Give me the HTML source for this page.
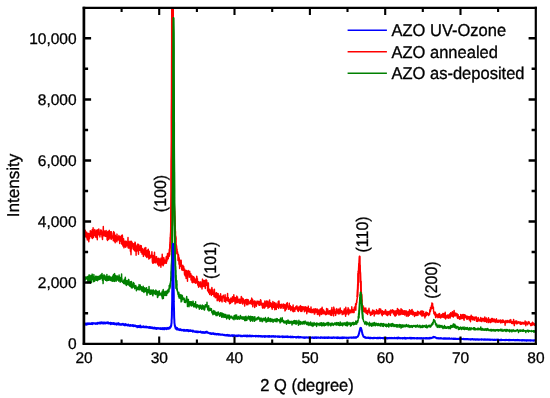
<!DOCTYPE html>
<html><head><meta charset="utf-8"><title>XRD</title>
<style>html,body{margin:0;padding:0;background:#fff;overflow:hidden}svg{display:block}text{font-family:'Liberation Sans', Arial, Helvetica, sans-serif;fill:#000;stroke:#000;stroke-width:0.3px;text-rendering:geometricPrecision}</style></head><body>
<svg width="550" height="398" viewBox="0 0 550 398">
<rect width="550" height="398" fill="#fff"/>
<defs><clipPath id="c"><rect x="83.9" y="7.75" width="451.9" height="335.95"/></clipPath></defs>
<g clip-path="url(#c)" fill="none" stroke-width="1.45" stroke-linejoin="round">
<polyline stroke="#ff0000" points="83.9,234.3 84.1,233.4 84.3,235.2 84.5,237.0 84.7,235.7 84.8,237.3 85.0,234.1 85.2,230.2 85.4,235.8 85.6,236.1 85.8,232.8 86.0,233.1 86.2,233.9 86.3,237.1 86.5,234.3 86.7,232.1 86.9,238.3 87.1,235.6 87.3,240.0 87.5,238.1 87.7,239.8 87.9,234.9 88.0,238.0 88.2,233.3 88.4,233.6 88.6,234.7 88.8,241.8 89.0,235.7 89.2,234.2 89.4,233.7 89.5,238.7 89.7,235.5 89.9,237.0 90.1,236.5 90.3,230.8 90.5,236.5 90.7,234.1 90.9,231.3 91.1,235.7 91.2,234.3 91.4,233.6 91.6,233.7 91.8,237.7 92.0,233.7 92.2,229.8 92.4,238.6 92.6,231.3 92.7,233.5 92.9,235.8 93.1,227.7 93.3,231.5 93.5,237.5 93.7,233.6 93.9,232.0 94.1,234.4 94.3,231.7 94.4,234.0 94.6,231.7 94.8,229.4 95.0,235.8 95.2,233.1 95.4,235.1 95.6,233.3 95.8,237.3 96.0,235.5 96.1,234.3 96.3,230.9 96.5,230.2 96.7,237.7 96.9,236.1 97.1,231.6 97.3,239.7 97.5,235.0 97.6,233.9 97.8,229.7 98.0,231.5 98.2,234.6 98.4,234.7 98.6,234.3 98.8,228.9 99.0,234.8 99.2,234.4 99.3,232.4 99.5,233.9 99.7,234.1 99.9,236.9 100.1,233.5 100.3,234.8 100.5,229.9 100.7,231.4 100.8,233.5 101.0,231.4 101.2,234.4 101.4,230.2 101.6,233.4 101.8,231.6 102.0,237.3 102.2,232.3 102.4,238.5 102.5,239.5 102.7,234.2 102.9,236.0 103.1,232.8 103.3,226.4 103.5,235.8 103.7,235.1 103.9,232.6 104.0,231.7 104.2,233.7 104.4,233.8 104.6,231.0 104.8,231.6 105.0,236.3 105.2,233.4 105.4,233.1 105.6,236.4 105.7,232.4 105.9,235.9 106.1,230.4 106.3,232.8 106.5,233.2 106.7,235.3 106.9,234.0 107.1,239.8 107.2,237.2 107.4,232.8 107.6,240.5 107.8,231.5 108.0,239.5 108.2,231.9 108.4,236.9 108.6,232.0 108.8,234.1 108.9,239.2 109.1,230.8 109.3,230.3 109.5,235.0 109.7,235.7 109.9,235.5 110.1,238.0 110.3,231.8 110.4,236.9 110.6,235.5 110.8,237.8 111.0,237.4 111.2,239.4 111.4,231.8 111.6,236.2 111.8,232.9 112.0,235.9 112.1,238.1 112.3,237.1 112.5,237.8 112.7,236.2 112.9,237.5 113.1,237.3 113.3,240.7 113.5,239.0 113.7,231.6 113.8,238.8 114.0,240.0 114.2,235.9 114.4,232.7 114.6,241.5 114.8,237.8 115.0,239.2 115.2,242.7 115.3,235.2 115.5,237.6 115.7,237.4 115.9,239.9 116.1,236.4 116.3,239.5 116.5,238.3 116.7,241.3 116.9,241.8 117.0,234.1 117.2,239.8 117.4,237.5 117.6,238.5 117.8,239.8 118.0,240.1 118.2,236.8 118.4,239.7 118.5,239.3 118.7,238.9 118.9,235.5 119.1,237.1 119.3,238.0 119.5,241.0 119.7,243.5 119.9,236.6 120.1,236.6 120.2,240.0 120.4,238.1 120.6,237.5 120.8,237.4 121.0,237.2 121.2,241.5 121.4,235.6 121.6,244.0 121.7,237.8 121.9,239.0 122.1,238.0 122.3,235.0 122.5,236.3 122.7,244.3 122.9,246.0 123.1,238.6 123.3,244.2 123.4,241.3 123.6,238.8 123.8,246.3 124.0,247.8 124.2,240.9 124.4,241.6 124.6,242.6 124.8,241.8 124.9,244.6 125.1,246.6 125.3,242.7 125.5,245.2 125.7,247.3 125.9,241.0 126.1,242.8 126.3,241.5 126.5,245.7 126.6,244.8 126.8,245.9 127.0,245.7 127.2,242.6 127.4,245.6 127.6,242.3 127.8,242.4 128.0,237.5 128.1,247.8 128.3,241.1 128.5,244.1 128.7,244.0 128.9,248.3 129.1,245.5 129.3,242.0 129.5,244.6 129.7,244.2 129.8,245.4 130.0,241.2 130.2,244.8 130.4,251.3 130.6,246.9 130.8,250.8 131.0,254.7 131.2,246.7 131.3,241.3 131.5,245.2 131.7,248.9 131.9,248.3 132.1,242.3 132.3,245.3 132.5,245.7 132.7,246.1 132.9,245.9 133.0,243.8 133.2,244.6 133.4,245.7 133.6,249.5 133.8,245.0 134.0,248.6 134.2,243.5 134.4,250.5 134.6,247.3 134.7,247.0 134.9,251.0 135.1,242.1 135.3,243.0 135.5,248.7 135.7,245.2 135.9,246.4 136.1,255.3 136.2,247.0 136.4,248.0 136.6,247.7 136.8,251.2 137.0,248.9 137.2,248.7 137.4,244.8 137.6,247.4 137.8,248.5 137.9,244.1 138.1,250.3 138.3,249.9 138.5,254.2 138.7,244.4 138.9,246.3 139.1,246.5 139.3,247.3 139.4,249.0 139.6,248.8 139.8,250.3 140.0,250.3 140.2,249.6 140.4,245.5 140.6,248.4 140.8,250.3 141.0,251.9 141.1,252.2 141.3,245.8 141.5,249.1 141.7,250.5 141.9,251.8 142.1,254.1 142.3,251.2 142.5,248.6 142.6,252.4 142.8,252.1 143.0,252.2 143.2,251.3 143.4,256.4 143.6,252.6 143.8,254.5 144.0,249.6 144.2,254.5 144.3,250.7 144.5,248.1 144.7,253.5 144.9,254.4 145.1,252.3 145.3,253.0 145.5,255.9 145.7,251.9 145.8,247.5 146.0,254.2 146.2,254.1 146.4,256.7 146.6,252.9 146.8,257.5 147.0,257.2 147.2,250.5 147.4,256.9 147.5,251.3 147.7,250.1 147.9,253.9 148.1,253.1 148.3,249.3 148.5,255.5 148.7,256.8 148.9,259.1 149.0,255.2 149.2,251.2 149.4,252.8 149.6,258.4 149.8,258.2 150.0,257.4 150.2,255.2 150.4,256.7 150.6,255.7 150.7,255.5 150.9,257.4 151.1,256.7 151.3,256.1 151.5,257.1 151.7,255.5 151.9,251.8 152.1,255.5 152.2,257.2 152.4,262.2 152.6,256.4 152.8,263.2 153.0,261.8 153.2,255.5 153.4,256.0 153.6,258.6 153.8,263.1 153.9,259.4 154.1,260.4 154.3,256.8 154.5,252.3 154.7,258.2 154.9,261.1 155.1,262.4 155.3,259.3 155.5,259.8 155.6,262.6 155.8,259.2 156.0,262.9 156.2,256.6 156.4,256.8 156.6,256.9 156.8,261.4 157.0,258.7 157.1,260.7 157.3,261.5 157.5,261.5 157.7,264.3 157.9,264.8 158.1,258.6 158.3,261.5 158.5,260.4 158.7,258.3 158.8,266.1 159.0,263.6 159.2,261.0 159.4,260.5 159.6,262.7 159.8,258.9 160.0,261.2 160.2,265.3 160.3,264.5 160.5,259.6 160.7,260.6 160.9,267.2 161.1,258.1 161.3,260.1 161.5,258.0 161.7,262.7 161.9,262.4 162.0,264.7 162.2,254.3 162.4,261.9 162.6,256.9 162.8,263.1 163.0,260.7 163.2,265.8 163.4,262.1 163.5,258.1 163.7,264.3 163.9,257.7 164.1,259.7 164.3,263.5 164.5,261.8 164.7,261.6 164.9,260.3 165.1,261.6 165.2,262.3 165.4,260.7 165.6,262.6 165.8,263.2 166.0,259.5 166.2,256.7 166.4,263.3 166.6,258.8 166.7,260.5 166.9,261.2 167.1,255.7 167.3,259.4 167.5,253.4 167.7,259.6 167.9,255.9 168.1,257.3 168.3,258.4 168.4,254.0 168.6,255.6 168.8,252.8 169.0,253.9 169.1,256.6 169.2,253.4 169.2,252.6 169.3,249.5 169.4,254.5 169.5,251.5 169.5,255.9 169.6,248.5 169.7,253.0 169.8,254.5 169.8,248.8 169.9,244.6 170.0,251.6 170.1,249.5 170.1,247.5 170.2,247.7 170.3,242.1 170.4,244.4 170.4,242.7 170.5,237.2 170.6,239.3 170.7,233.6 170.7,235.3 170.8,232.9 170.9,231.1 171.0,215.4 171.0,216.6 171.1,208.4 171.2,201.3 171.3,191.3 171.3,180.4 171.4,161.5 171.5,155.2 171.6,139.3 171.6,118.0 171.7,97.4 171.8,67.5 171.9,42.5 171.9,22.3 172.0,-2.1 172.1,-30.0 172.2,-58.2 172.2,-64.9 172.3,-90.2 172.4,-94.9 172.5,-104.7 172.5,-95.3 172.6,-89.3 172.7,-72.3 172.8,-56.7 172.8,-43.8 172.9,-20.1 173.0,6.4 173.1,30.7 173.2,56.2 173.2,72.8 173.3,91.4 173.4,109.6 173.5,125.8 173.5,143.2 173.6,152.4 173.7,163.1 173.8,168.2 173.8,174.2 173.9,187.0 174.0,194.5 174.1,197.1 174.1,202.9 174.2,206.9 174.3,207.9 174.4,213.7 174.4,211.1 174.5,215.6 174.6,216.6 174.7,219.9 174.7,223.4 174.8,225.8 174.9,225.3 175.0,227.8 175.0,226.9 175.1,229.1 175.2,234.5 175.3,231.5 175.3,237.0 175.4,236.0 175.5,236.1 175.6,242.6 175.6,237.1 175.7,237.9 175.8,239.8 175.9,241.5 175.9,242.2 176.0,244.8 176.1,243.5 176.2,245.2 176.2,244.0 176.3,248.6 176.4,245.0 176.5,245.9 176.5,247.4 176.6,248.9 176.7,246.6 176.8,253.7 176.8,248.0 176.9,249.2 177.0,249.6 177.1,249.8 177.1,253.3 177.2,252.7 177.5,251.6 177.7,253.2 177.9,254.8 178.0,260.6 178.2,255.6 178.4,254.5 178.6,255.7 178.8,258.6 179.0,264.2 179.2,257.8 179.4,261.4 179.6,268.6 179.7,261.0 179.9,266.7 180.1,266.6 180.3,265.2 180.5,260.3 180.7,265.3 180.9,263.9 181.1,260.2 181.2,261.0 181.4,266.0 181.6,266.7 181.8,269.9 182.0,268.6 182.2,265.9 182.4,266.3 182.6,267.4 182.8,265.3 182.9,270.4 183.1,268.7 183.3,266.8 183.5,267.5 183.7,266.5 183.9,268.6 184.1,270.7 184.3,269.2 184.4,273.1 184.6,275.0 184.8,269.3 185.0,271.3 185.2,270.5 185.4,276.1 185.6,272.8 185.8,273.6 186.0,274.5 186.1,278.5 186.3,273.6 186.5,270.5 186.7,272.1 186.9,274.9 187.1,273.6 187.3,271.8 187.5,281.2 187.6,274.5 187.8,273.0 188.0,272.8 188.2,270.4 188.4,272.0 188.6,274.4 188.8,274.6 189.0,273.6 189.2,277.2 189.3,276.1 189.5,273.8 189.7,271.3 189.9,277.0 190.1,276.9 190.3,276.4 190.5,273.6 190.7,277.3 190.8,273.6 191.0,280.0 191.2,278.2 191.4,278.4 191.6,276.0 191.8,275.5 192.0,282.2 192.2,280.8 192.4,277.7 192.5,280.4 192.7,282.8 192.9,276.4 193.1,277.9 193.3,278.1 193.5,280.7 193.7,277.0 193.9,280.4 194.1,277.1 194.2,282.4 194.4,282.3 194.6,279.8 194.8,282.2 195.0,278.9 195.2,280.1 195.4,283.2 195.6,280.8 195.7,282.0 195.9,279.0 196.1,283.0 196.3,282.7 196.5,278.7 196.7,276.2 196.9,277.0 197.1,282.0 197.3,281.7 197.4,278.6 197.6,282.9 197.8,285.1 198.0,282.5 198.2,281.8 198.4,285.1 198.6,287.3 198.8,286.9 198.9,281.8 199.1,285.5 199.3,284.1 199.5,283.3 199.7,282.4 199.9,284.9 200.1,283.0 200.3,286.5 200.5,285.3 200.6,287.0 200.8,281.8 201.0,284.7 201.2,286.6 201.4,285.7 201.6,285.4 201.8,283.3 202.0,289.0 202.1,287.7 202.3,286.1 202.5,279.1 202.7,283.0 202.9,285.7 203.1,283.7 203.3,280.5 203.5,286.1 203.7,286.4 203.8,282.6 204.0,284.3 204.2,283.8 204.4,286.6 204.6,280.4 204.8,280.7 205.0,283.1 205.2,282.4 205.3,288.6 205.5,281.3 205.7,282.8 205.9,280.6 206.1,279.6 206.3,281.9 206.5,285.3 206.7,280.4 206.9,283.8 207.0,283.6 207.2,285.1 207.4,285.3 207.6,290.9 207.8,283.1 208.0,286.1 208.2,284.6 208.4,283.0 208.5,288.1 208.7,292.8 208.9,291.0 209.1,292.0 209.3,290.6 209.5,289.4 209.7,294.5 209.9,289.3 210.1,293.8 210.2,289.8 210.4,290.9 210.6,291.6 210.8,291.2 211.0,292.5 211.2,292.8 211.4,295.4 211.6,291.8 211.8,287.7 211.9,287.6 212.1,289.3 212.3,290.9 212.5,294.2 212.7,289.6 212.9,293.1 213.1,293.3 213.3,294.0 213.4,293.3 213.6,294.7 213.8,294.1 214.0,296.5 214.2,295.0 214.4,289.3 214.6,294.7 214.8,295.3 215.0,293.7 215.1,293.5 215.3,297.7 215.5,295.9 215.7,293.6 215.9,295.1 216.1,295.6 216.3,292.6 216.5,297.6 216.6,296.0 216.8,297.4 217.0,293.1 217.2,300.7 217.4,298.0 217.6,297.7 217.8,295.1 218.0,295.3 218.2,293.6 218.3,300.1 218.5,295.1 218.7,297.4 218.9,298.3 219.1,295.7 219.3,298.9 219.5,301.5 219.7,297.8 219.8,300.3 220.0,298.5 220.2,296.4 220.4,296.5 220.6,293.8 220.8,297.7 221.0,300.7 221.2,299.0 221.4,299.4 221.5,300.1 221.7,296.6 221.9,299.0 222.1,301.9 222.3,296.2 222.5,297.9 222.7,297.0 222.9,297.6 223.0,296.5 223.2,297.8 223.4,295.3 223.6,297.0 223.8,297.2 224.0,297.2 224.2,301.2 224.4,298.5 224.6,298.7 224.7,297.8 224.9,301.2 225.1,294.8 225.3,298.1 225.5,301.0 225.7,302.1 225.9,299.1 226.1,298.7 226.2,300.1 226.4,298.4 226.6,300.0 226.8,297.5 227.0,300.3 227.2,298.9 227.4,296.8 227.6,293.4 227.8,301.1 227.9,299.9 228.1,300.8 228.3,297.4 228.5,301.5 228.7,300.2 228.9,299.2 229.1,301.3 229.3,301.3 229.4,300.3 229.6,303.8 229.8,302.4 230.0,300.3 230.2,299.1 230.4,299.9 230.6,303.3 230.8,300.5 231.0,297.9 231.1,298.4 231.3,299.8 231.5,301.5 231.7,298.4 231.9,301.0 232.1,302.2 232.3,301.5 232.5,296.8 232.7,299.4 232.8,297.4 233.0,300.9 233.2,298.0 233.4,301.2 233.6,300.3 233.8,294.8 234.0,298.4 234.2,301.1 234.3,300.3 234.5,299.5 234.7,297.6 234.9,301.2 235.1,303.9 235.3,300.8 235.5,300.2 235.7,300.1 235.9,297.6 236.0,299.7 236.2,298.7 236.4,302.7 236.6,298.6 236.8,296.1 237.0,298.9 237.2,300.0 237.4,300.2 237.5,296.9 237.7,302.6 237.9,300.9 238.1,299.7 238.3,299.2 238.5,301.7 238.7,300.1 238.9,301.4 239.1,300.6 239.2,301.1 239.4,303.3 239.6,301.0 239.8,299.1 240.0,303.0 240.2,301.5 240.4,299.7 240.6,303.3 240.7,300.7 240.9,303.3 241.1,298.8 241.3,296.4 241.5,297.0 241.7,301.7 241.9,299.7 242.1,301.0 242.3,301.1 242.4,298.2 242.6,304.1 242.8,299.2 243.0,301.5 243.2,298.6 243.4,301.1 243.6,302.9 243.8,301.0 243.9,300.1 244.1,301.5 244.3,300.6 244.5,302.7 244.7,306.1 244.9,299.9 245.1,300.3 245.3,301.5 245.5,301.7 245.6,299.7 245.8,302.8 246.0,303.3 246.2,302.3 246.4,299.5 246.6,304.8 246.8,299.6 247.0,303.3 247.1,304.3 247.3,299.5 247.5,302.3 247.7,304.8 247.9,302.9 248.1,300.3 248.3,299.8 248.5,303.1 248.7,301.5 248.8,300.9 249.0,303.7 249.2,301.7 249.4,302.5 249.6,303.5 249.8,303.5 250.0,302.4 250.2,302.5 250.3,303.7 250.5,303.4 250.7,300.4 250.9,302.2 251.1,300.9 251.3,300.2 251.5,301.5 251.7,298.1 251.9,304.4 252.0,301.1 252.2,303.4 252.4,299.1 252.6,299.4 252.8,306.7 253.0,304.8 253.2,301.5 253.4,301.3 253.6,301.4 253.7,303.1 253.9,302.0 254.1,301.7 254.3,303.1 254.5,301.0 254.7,307.5 254.9,301.8 255.1,305.1 255.2,301.2 255.4,303.6 255.6,304.9 255.8,302.4 256.0,305.0 256.2,305.0 256.4,306.3 256.6,303.3 256.8,302.3 256.9,301.2 257.1,303.6 257.3,301.2 257.5,303.3 257.7,303.5 257.9,302.2 258.1,301.3 258.3,304.1 258.4,303.9 258.6,303.8 258.8,303.3 259.0,305.3 259.2,301.5 259.4,304.3 259.6,302.6 259.8,305.2 260.0,302.9 260.1,302.8 260.3,304.5 260.5,299.7 260.7,302.9 260.9,300.2 261.1,301.8 261.3,305.0 261.5,304.5 261.6,302.9 261.8,303.7 262.0,303.7 262.2,304.4 262.4,307.4 262.6,304.3 262.8,308.2 263.0,303.2 263.2,305.4 263.3,305.4 263.5,304.4 263.7,303.5 263.9,306.8 264.1,307.5 264.3,306.1 264.5,308.1 264.7,306.0 264.8,301.0 265.0,306.2 265.2,302.9 265.4,306.9 265.6,303.6 265.8,304.9 266.0,304.4 266.2,303.2 266.4,300.9 266.5,303.9 266.7,304.1 266.9,306.2 267.1,303.2 267.3,304.9 267.5,302.8 267.7,304.5 267.9,301.1 268.0,308.3 268.2,305.1 268.4,302.8 268.6,305.2 268.8,306.1 269.0,305.1 269.2,307.3 269.4,304.4 269.6,299.9 269.7,302.4 269.9,306.8 270.1,306.4 270.3,305.5 270.5,302.8 270.7,306.3 270.9,306.1 271.1,303.1 271.3,303.2 271.4,305.6 271.6,307.0 271.8,307.9 272.0,306.2 272.2,309.2 272.4,303.5 272.6,306.2 272.8,304.1 272.9,301.4 273.1,302.8 273.3,307.2 273.5,303.4 273.7,302.9 273.9,306.5 274.1,306.9 274.3,305.4 274.5,308.2 274.6,302.4 274.8,309.8 275.0,307.3 275.2,305.8 275.4,305.7 275.6,305.0 275.8,304.8 276.0,305.7 276.1,303.2 276.3,309.4 276.5,305.4 276.7,306.8 276.9,305.2 277.1,305.0 277.3,307.2 277.5,306.7 277.7,304.0 277.8,304.9 278.0,306.8 278.2,301.7 278.4,301.2 278.6,308.4 278.8,305.1 279.0,301.0 279.2,304.3 279.3,305.3 279.5,306.2 279.7,306.8 279.9,306.3 280.1,306.9 280.3,304.5 280.5,306.7 280.7,306.8 280.9,308.3 281.0,306.1 281.2,307.8 281.4,306.4 281.6,304.2 281.8,305.5 282.0,305.3 282.2,305.6 282.4,306.2 282.5,306.5 282.7,306.9 282.9,305.0 283.1,308.4 283.3,303.9 283.5,306.4 283.7,307.9 283.9,307.4 284.1,307.8 284.2,306.3 284.4,307.9 284.6,304.5 284.8,308.1 285.0,310.9 285.2,308.1 285.4,310.5 285.6,306.9 285.7,304.9 285.9,305.7 286.1,309.4 286.3,308.3 286.5,303.7 286.7,306.4 286.9,307.0 287.1,305.1 287.3,302.6 287.4,304.7 287.6,306.9 287.8,306.5 288.0,306.1 288.2,308.4 288.4,309.2 288.6,307.2 288.8,309.1 288.9,307.5 289.1,307.2 289.3,303.2 289.5,309.0 289.7,307.7 289.9,307.8 290.1,306.7 290.3,305.7 290.5,308.5 290.6,309.1 290.8,310.6 291.0,309.3 291.2,306.7 291.4,307.6 291.6,309.5 291.8,308.4 292.0,307.7 292.2,306.9 292.3,308.9 292.5,308.3 292.7,311.1 292.9,309.9 293.1,305.0 293.3,311.8 293.5,308.5 293.7,307.5 293.8,308.6 294.0,309.4 294.2,308.1 294.4,308.0 294.6,308.2 294.8,311.4 295.0,308.3 295.2,309.6 295.4,309.1 295.5,307.7 295.7,307.0 295.9,306.6 296.1,309.1 296.3,306.6 296.5,306.2 296.7,306.2 296.9,305.8 297.0,308.6 297.2,308.6 297.4,306.9 297.6,310.8 297.8,308.0 298.0,309.4 298.2,309.1 298.4,311.5 298.6,310.1 298.7,308.5 298.9,306.9 299.1,306.8 299.3,308.7 299.5,308.9 299.7,310.1 299.9,307.9 300.1,309.1 300.2,307.6 300.4,305.6 300.6,308.8 300.8,311.4 301.0,310.3 301.2,311.3 301.4,310.9 301.6,306.5 301.8,308.4 301.9,311.5 302.1,307.7 302.3,306.7 302.5,309.5 302.7,310.1 302.9,309.5 303.1,308.5 303.3,307.9 303.4,306.9 303.6,306.9 303.8,307.0 304.0,306.7 304.2,307.9 304.4,311.8 304.6,309.4 304.8,308.6 305.0,309.9 305.1,307.6 305.3,309.9 305.5,310.9 305.7,306.8 305.9,308.1 306.1,308.9 306.3,307.7 306.5,307.5 306.6,308.8 306.8,313.7 307.0,310.6 307.2,310.2 307.4,311.2 307.6,309.1 307.8,307.4 308.0,310.4 308.2,311.5 308.3,306.1 308.5,310.4 308.7,311.8 308.9,309.3 309.1,309.1 309.3,311.2 309.5,308.8 309.7,311.2 309.9,312.2 310.0,310.6 310.2,309.8 310.4,312.3 310.6,310.8 310.8,311.6 311.0,306.9 311.2,312.8 311.4,309.3 311.5,311.7 311.7,311.8 311.9,310.4 312.1,310.1 312.3,309.5 312.5,311.1 312.7,312.6 312.9,312.5 313.1,310.8 313.2,310.7 313.4,309.3 313.6,310.9 313.8,309.9 314.0,309.1 314.2,311.4 314.4,314.1 314.6,313.6 314.7,314.0 314.9,309.0 315.1,313.0 315.3,309.6 315.5,310.7 315.7,308.8 315.9,310.0 316.1,311.8 316.3,312.0 316.4,311.5 316.6,311.4 316.8,312.5 317.0,311.7 317.2,309.0 317.4,314.5 317.6,311.2 317.8,313.2 317.9,311.4 318.1,310.3 318.3,311.8 318.5,310.4 318.7,314.3 318.9,309.9 319.1,312.7 319.3,310.7 319.5,311.4 319.6,315.9 319.8,312.9 320.0,311.3 320.2,309.1 320.4,311.2 320.6,311.3 320.8,314.0 321.0,309.3 321.1,308.7 321.3,311.7 321.5,312.1 321.7,314.4 321.9,310.3 322.1,307.3 322.3,310.5 322.5,309.6 322.7,310.8 322.8,313.3 323.0,309.5 323.2,313.7 323.4,312.1 323.6,311.3 323.8,310.3 324.0,311.0 324.2,311.1 324.3,313.0 324.5,313.8 324.7,311.6 324.9,312.9 325.1,313.9 325.3,313.8 325.5,312.5 325.7,314.8 325.9,314.0 326.0,314.4 326.2,311.4 326.4,311.1 326.6,308.4 326.8,314.2 327.0,312.9 327.2,310.2 327.4,312.1 327.5,312.3 327.7,308.9 327.9,312.3 328.1,313.7 328.3,313.9 328.5,311.2 328.7,311.3 328.9,314.0 329.1,313.4 329.2,310.9 329.4,310.8 329.6,312.8 329.8,310.7 330.0,310.8 330.2,314.7 330.4,312.3 330.6,311.1 330.8,312.7 330.9,315.3 331.1,312.2 331.3,310.5 331.5,309.2 331.7,315.4 331.9,307.5 332.1,313.6 332.3,310.2 332.4,309.7 332.6,310.2 332.8,311.5 333.0,313.7 333.2,310.7 333.4,312.9 333.6,315.9 333.8,307.1 334.0,310.6 334.1,308.8 334.3,313.3 334.5,309.4 334.7,309.2 334.9,309.2 335.1,311.8 335.3,313.7 335.5,312.1 335.6,315.4 335.8,314.6 336.0,311.6 336.2,313.4 336.4,312.0 336.6,311.9 336.8,308.6 337.0,309.6 337.2,311.8 337.3,309.8 337.5,313.0 337.7,312.3 337.9,310.3 338.1,313.8 338.3,312.2 338.5,313.9 338.7,311.6 338.8,309.1 339.0,313.0 339.2,311.4 339.4,313.2 339.6,313.6 339.8,313.8 340.0,309.4 340.2,307.9 340.4,311.0 340.5,312.9 340.7,310.6 340.9,312.3 341.1,310.4 341.3,311.3 341.5,311.3 341.7,310.7 341.9,312.7 342.0,312.4 342.2,314.6 342.4,312.4 342.6,314.1 342.8,312.0 343.0,313.3 343.2,311.5 343.4,311.0 343.6,314.0 343.7,313.0 343.9,313.2 344.1,310.5 344.3,308.9 344.5,310.3 344.7,312.3 344.9,309.3 345.1,314.2 345.2,309.2 345.4,312.7 345.6,316.2 345.8,307.3 346.0,309.0 346.2,313.3 346.4,311.3 346.6,312.0 346.8,311.4 346.9,314.0 347.1,312.7 347.3,310.8 347.5,311.2 347.7,309.6 347.9,311.4 348.1,307.7 348.3,312.7 348.4,311.1 348.6,314.7 348.8,313.6 349.0,309.3 349.2,313.0 349.4,310.6 349.6,311.5 349.8,313.1 350.0,312.0 350.1,312.2 350.3,312.2 350.5,310.1 350.7,310.2 350.9,312.3 351.1,312.8 351.3,310.8 351.5,311.4 351.7,309.5 351.8,306.7 352.0,309.7 352.2,311.1 352.4,311.3 352.6,312.4 352.8,312.5 353.0,312.6 353.2,311.5 353.3,311.5 353.5,309.4 353.7,311.3 353.9,310.8 354.1,312.5 354.3,307.5 354.5,309.3 354.7,306.9 354.9,308.4 355.0,307.0 355.2,309.7 355.4,307.7 355.6,303.7 355.8,310.2 356.0,305.1 356.2,303.3 356.4,304.5 356.5,302.5 356.7,300.2 356.8,302.7 357.0,298.8 357.1,299.7 357.3,297.1 357.5,294.7 357.6,291.1 357.8,287.6 357.9,284.0 358.1,285.7 358.2,273.8 358.4,272.9 358.5,271.1 358.7,271.3 358.8,268.2 359.0,264.5 359.1,263.5 359.3,268.8 359.4,261.9 359.6,256.5 359.7,271.3 359.9,265.2 360.0,269.4 360.2,273.4 360.3,272.4 360.5,282.2 360.6,281.7 360.8,281.5 360.9,288.6 361.1,291.8 361.2,293.1 361.4,296.7 361.5,294.4 361.7,301.7 361.8,299.6 362.0,305.5 362.1,302.8 362.3,305.4 362.4,311.1 362.6,306.9 362.7,309.6 362.9,309.0 363.0,305.8 363.2,311.0 363.3,311.2 363.5,307.0 363.6,309.6 363.8,307.3 363.9,309.6 364.3,312.0 364.5,310.7 364.6,308.6 364.8,309.2 365.0,310.9 365.2,310.9 365.4,311.3 365.6,312.1 365.8,307.9 366.0,311.3 366.1,313.3 366.3,312.2 366.5,310.2 366.7,310.4 366.9,311.8 367.1,312.7 367.3,311.6 367.5,314.5 367.7,313.9 367.8,310.4 368.0,312.6 368.2,311.2 368.4,309.8 368.6,310.7 368.8,311.8 369.0,308.3 369.2,310.8 369.4,312.5 369.5,310.7 369.7,311.3 369.9,313.4 370.1,311.9 370.3,312.3 370.5,315.4 370.7,312.4 370.9,312.6 371.0,312.8 371.2,314.9 371.4,312.7 371.6,312.2 371.8,312.0 372.0,314.1 372.2,311.1 372.4,314.2 372.6,312.6 372.7,310.0 372.9,313.4 373.1,313.1 373.3,310.5 373.5,312.9 373.7,312.8 373.9,311.9 374.1,310.5 374.2,316.0 374.4,313.7 374.6,314.0 374.8,314.1 375.0,313.8 375.2,313.7 375.4,311.8 375.6,313.8 375.8,312.1 375.9,311.7 376.1,313.5 376.3,312.1 376.5,309.6 376.7,311.8 376.9,313.4 377.1,312.4 377.3,313.8 377.4,311.9 377.6,310.9 377.8,313.7 378.0,312.7 378.2,310.5 378.4,313.1 378.6,312.0 378.8,314.0 379.0,313.7 379.1,313.2 379.3,308.8 379.5,313.0 379.7,313.2 379.9,313.2 380.1,312.6 380.3,311.2 380.5,312.0 380.6,308.9 380.8,311.9 381.0,309.9 381.2,311.8 381.4,311.3 381.6,314.6 381.8,312.5 382.0,312.4 382.2,312.7 382.3,315.8 382.5,310.8 382.7,312.9 382.9,313.0 383.1,312.7 383.3,312.6 383.5,311.6 383.7,314.3 383.8,313.8 384.0,311.8 384.2,312.0 384.4,312.8 384.6,313.2 384.8,313.6 385.0,312.3 385.2,310.3 385.4,313.9 385.5,309.7 385.7,310.8 385.9,312.9 386.1,310.9 386.3,314.6 386.5,315.0 386.7,314.3 386.9,312.9 387.0,312.7 387.2,313.0 387.4,312.0 387.6,315.6 387.8,311.4 388.0,314.5 388.2,313.2 388.4,312.8 388.6,314.0 388.7,314.4 388.9,313.8 389.1,312.2 389.3,311.2 389.5,311.2 389.7,313.7 389.9,313.4 390.1,313.6 390.3,311.4 390.4,315.4 390.6,310.1 390.8,312.9 391.0,313.4 391.2,311.5 391.4,310.4 391.6,311.5 391.8,310.4 391.9,311.9 392.1,310.1 392.3,310.0 392.5,312.2 392.7,309.7 392.9,311.8 393.1,311.9 393.3,313.6 393.5,312.5 393.6,310.8 393.8,314.2 394.0,311.0 394.2,311.5 394.4,311.6 394.6,315.7 394.8,312.2 395.0,311.0 395.1,313.3 395.3,311.9 395.5,316.0 395.7,311.0 395.9,313.2 396.1,310.7 396.3,315.1 396.5,311.0 396.7,312.5 396.8,310.9 397.0,313.7 397.2,313.2 397.4,308.5 397.6,313.6 397.8,313.4 398.0,312.7 398.2,313.9 398.3,310.3 398.5,309.4 398.7,313.4 398.9,315.1 399.1,310.4 399.3,310.5 399.5,311.0 399.7,310.4 399.9,313.7 400.0,312.6 400.2,314.6 400.4,314.6 400.6,310.8 400.8,313.5 401.0,308.7 401.2,312.3 401.4,313.4 401.5,311.1 401.7,309.5 401.9,311.6 402.1,314.4 402.3,311.8 402.5,310.2 402.7,313.3 402.9,313.7 403.1,310.8 403.2,312.3 403.4,314.3 403.6,313.1 403.8,313.7 404.0,312.0 404.2,312.4 404.4,310.7 404.6,311.4 404.7,315.1 404.9,311.9 405.1,311.1 405.3,311.8 405.5,310.9 405.7,313.5 405.9,314.1 406.1,311.1 406.3,314.3 406.4,316.1 406.6,311.0 406.8,313.8 407.0,313.2 407.2,314.9 407.4,314.8 407.6,314.6 407.8,313.3 407.9,312.1 408.1,316.4 408.3,311.5 408.5,314.6 408.7,314.5 408.9,311.7 409.1,312.9 409.3,315.2 409.5,309.8 409.6,314.2 409.8,312.4 410.0,312.5 410.2,310.6 410.4,313.6 410.6,311.3 410.8,314.1 411.0,311.1 411.2,314.2 411.3,313.5 411.5,310.0 411.7,312.5 411.9,312.8 412.1,309.5 412.3,312.5 412.5,314.4 412.7,311.9 412.8,315.0 413.0,311.4 413.2,311.3 413.4,314.1 413.6,314.2 413.8,313.0 414.0,313.2 414.2,314.8 414.4,312.4 414.5,316.5 414.7,314.0 414.9,314.0 415.1,313.8 415.3,312.9 415.5,315.3 415.7,312.5 415.9,313.7 416.0,314.5 416.2,315.6 416.4,315.4 416.6,313.0 416.8,315.1 417.0,313.5 417.2,312.0 417.4,312.0 417.6,311.2 417.7,314.1 417.9,315.4 418.1,312.1 418.3,313.3 418.5,312.0 418.7,313.8 418.9,311.9 419.1,312.5 419.2,312.7 419.4,313.1 419.6,313.3 419.8,313.5 420.0,313.6 420.2,312.4 420.4,314.7 420.6,311.3 420.8,314.2 420.9,312.5 421.1,314.2 421.3,314.4 421.5,311.0 421.7,314.6 421.9,316.1 422.1,315.2 422.3,314.6 422.4,310.9 422.6,313.9 422.8,312.8 423.0,315.7 423.2,313.7 423.4,313.2 423.6,311.5 423.8,315.3 424.0,313.4 424.1,313.9 424.3,315.9 424.5,314.4 424.7,314.8 424.9,317.9 425.1,313.5 425.3,313.6 425.5,315.1 425.6,316.4 425.8,312.2 426.0,314.0 426.2,312.9 426.4,312.3 426.6,315.2 426.8,313.2 427.0,314.8 427.2,314.6 427.3,314.6 427.5,314.5 427.7,312.8 427.9,314.2 428.1,314.6 428.3,314.8 428.5,313.8 428.7,315.6 428.9,314.9 429.0,314.1 429.2,314.7 429.4,313.8 429.6,314.3 429.8,309.8 430.0,310.5 430.2,311.4 430.4,311.7 430.5,307.4 430.7,309.9 430.9,309.9 431.1,308.5 431.3,307.8 431.5,305.2 431.7,307.3 431.9,302.9 432.1,308.2 432.2,305.2 432.4,308.4 432.6,303.5 432.8,307.9 433.0,308.0 433.2,306.9 433.4,307.1 433.6,311.9 433.7,311.3 433.9,313.7 434.1,311.7 434.3,312.7 434.5,313.6 434.7,314.5 434.9,314.4 435.1,315.3 435.3,313.6 435.4,312.3 435.6,317.6 435.8,315.1 436.0,315.6 436.2,314.4 436.4,316.5 436.6,315.4 436.8,316.8 436.9,314.3 437.1,315.2 437.3,315.6 437.5,314.9 437.7,315.8 437.9,317.7 438.1,314.7 438.3,315.1 438.5,315.8 438.6,314.2 438.8,313.9 439.0,317.2 439.2,316.8 439.4,313.5 439.6,313.7 439.8,316.8 440.0,317.4 440.1,316.7 440.3,316.5 440.5,318.0 440.7,315.8 440.9,317.6 441.1,317.6 441.3,314.6 441.5,316.9 441.7,316.0 441.8,315.0 442.0,314.8 442.2,316.4 442.4,315.9 442.6,317.1 442.8,313.5 443.0,315.1 443.2,317.5 443.3,316.0 443.5,315.0 443.7,315.4 443.9,313.5 444.1,314.1 444.3,316.8 444.5,316.2 444.7,317.9 444.9,315.7 445.0,315.9 445.2,312.3 445.4,316.0 445.6,319.0 445.8,317.1 446.0,316.0 446.2,317.9 446.4,317.3 446.5,316.6 446.7,315.7 446.9,316.4 447.1,317.4 447.3,315.0 447.5,316.9 447.7,316.8 447.9,318.0 448.1,317.2 448.2,315.2 448.4,318.3 448.6,316.1 448.8,315.0 449.0,316.5 449.2,315.6 449.4,317.4 449.6,314.0 449.8,314.2 449.9,315.3 450.1,318.1 450.3,317.0 450.5,313.9 450.7,312.7 450.9,314.6 451.1,313.1 451.3,315.7 451.4,314.9 451.6,314.4 451.8,313.6 452.0,316.4 452.2,312.5 452.4,311.7 452.6,315.4 452.8,315.6 453.0,312.9 453.1,314.4 453.3,317.1 453.5,312.1 453.7,313.2 453.9,314.3 454.1,310.4 454.3,313.7 454.5,315.2 454.6,314.1 454.8,316.0 455.0,315.8 455.2,314.2 455.4,315.8 455.6,315.8 455.8,313.0 456.0,314.3 456.2,314.5 456.3,315.1 456.5,315.3 456.7,314.0 456.9,316.2 457.1,313.7 457.3,317.7 457.5,316.8 457.7,318.4 457.8,317.0 458.0,315.9 458.2,314.7 458.4,317.6 458.6,316.7 458.8,317.3 459.0,317.8 459.2,318.4 459.4,316.8 459.5,319.2 459.7,316.8 459.9,316.9 460.1,317.8 460.3,318.3 460.5,318.9 460.7,314.5 460.9,318.8 461.0,315.0 461.2,316.3 461.4,317.6 461.6,318.6 461.8,315.8 462.0,314.9 462.2,318.4 462.4,317.6 462.6,315.8 462.7,316.8 462.9,314.6 463.1,318.0 463.3,316.5 463.5,318.9 463.7,314.5 463.9,318.3 464.1,320.2 464.2,317.5 464.4,317.5 464.6,314.8 464.8,317.8 465.0,317.4 465.2,316.6 465.4,315.3 465.6,317.5 465.8,316.1 465.9,316.8 466.1,317.9 466.3,317.4 466.5,317.5 466.7,318.8 466.9,316.0 467.1,319.4 467.3,316.2 467.5,316.5 467.6,317.8 467.8,318.7 468.0,318.1 468.2,317.2 468.4,316.9 468.6,317.5 468.8,316.6 469.0,318.6 469.1,317.6 469.3,320.0 469.5,317.0 469.7,317.8 469.9,318.6 470.1,316.6 470.3,317.2 470.5,321.7 470.7,318.1 470.8,320.0 471.0,316.9 471.2,315.2 471.4,318.9 471.6,318.2 471.8,318.7 472.0,317.9 472.2,317.6 472.3,316.8 472.5,319.7 472.7,316.5 472.9,319.7 473.1,318.2 473.3,317.1 473.5,317.7 473.7,319.8 473.9,319.5 474.0,319.2 474.2,318.8 474.4,317.3 474.6,320.3 474.8,318.2 475.0,318.1 475.2,318.2 475.4,318.3 475.5,317.1 475.7,318.3 475.9,317.9 476.1,318.3 476.3,316.9 476.5,321.3 476.7,317.5 476.9,319.4 477.1,319.5 477.2,320.3 477.4,321.4 477.6,319.7 477.8,320.0 478.0,318.7 478.2,321.0 478.4,317.6 478.6,319.0 478.7,319.6 478.9,320.2 479.1,320.3 479.3,320.7 479.5,320.1 479.7,319.4 479.9,319.7 480.1,321.1 480.3,319.8 480.4,320.6 480.6,319.3 480.8,317.4 481.0,318.8 481.2,320.0 481.4,321.5 481.6,321.3 481.8,321.6 481.9,318.8 482.1,320.6 482.3,319.6 482.5,320.4 482.7,319.6 482.9,318.2 483.1,320.6 483.3,320.2 483.5,320.7 483.6,318.8 483.8,321.0 484.0,321.2 484.2,321.5 484.4,321.5 484.6,319.4 484.8,317.0 485.0,321.1 485.1,318.9 485.3,319.7 485.5,321.3 485.7,320.4 485.9,320.3 486.1,320.9 486.3,317.9 486.5,322.3 486.7,319.7 486.8,319.8 487.0,320.8 487.2,320.0 487.4,319.2 487.6,320.1 487.8,319.8 488.0,319.5 488.2,322.6 488.4,318.7 488.5,317.8 488.7,319.3 488.9,319.3 489.1,322.0 489.3,320.5 489.5,321.3 489.7,321.1 489.9,319.4 490.0,321.4 490.2,320.6 490.4,322.6 490.6,320.7 490.8,320.4 491.0,321.3 491.2,321.4 491.4,318.5 491.6,321.9 491.7,321.8 491.9,321.5 492.1,319.3 492.3,318.4 492.5,320.3 492.7,321.5 492.9,321.1 493.1,319.5 493.2,321.7 493.4,319.1 493.6,319.2 493.8,320.7 494.0,320.1 494.2,320.0 494.4,319.1 494.6,321.9 494.8,319.5 494.9,321.2 495.1,321.7 495.3,320.7 495.5,321.1 495.7,321.9 495.9,322.6 496.1,321.9 496.3,319.4 496.4,318.8 496.6,320.2 496.8,319.7 497.0,321.5 497.2,321.1 497.4,320.7 497.6,322.2 497.8,322.1 498.0,320.9 498.1,321.4 498.3,322.2 498.5,320.7 498.7,321.4 498.9,320.0 499.1,321.1 499.3,321.4 499.5,321.0 499.6,321.3 499.8,321.9 500.0,321.6 500.2,320.4 500.4,320.5 500.6,319.9 500.8,323.0 501.0,321.7 501.2,321.7 501.3,321.1 501.5,321.8 501.7,321.8 501.9,320.5 502.1,321.1 502.3,322.6 502.5,320.0 502.7,320.3 502.8,322.0 503.0,320.5 503.2,322.2 503.4,320.2 503.6,321.7 503.8,322.3 504.0,321.8 504.2,322.3 504.4,321.3 504.5,321.3 504.7,321.5 504.9,322.1 505.1,325.3 505.3,321.4 505.5,323.5 505.7,321.3 505.9,320.4 506.0,321.3 506.2,322.0 506.4,321.8 506.6,321.8 506.8,322.2 507.0,322.3 507.2,322.6 507.4,320.5 507.6,321.7 507.7,320.7 507.9,322.0 508.1,321.7 508.3,321.9 508.5,321.3 508.7,320.9 508.9,321.6 509.1,322.5 509.3,322.6 509.4,320.2 509.6,322.1 509.8,322.2 510.0,320.4 510.2,320.8 510.4,321.4 510.6,322.3 510.8,319.6 510.9,321.6 511.1,321.4 511.3,322.2 511.5,323.4 511.7,323.3 511.9,321.6 512.1,321.7 512.3,322.3 512.5,323.2 512.6,323.5 512.8,322.4 513.0,323.6 513.2,321.3 513.4,321.0 513.6,319.4 513.8,321.3 514.0,322.8 514.1,323.1 514.3,325.6 514.5,322.9 514.7,322.5 514.9,321.4 515.1,321.7 515.3,321.8 515.5,322.1 515.7,321.7 515.8,321.0 516.0,323.4 516.2,322.9 516.4,323.8 516.6,320.9 516.8,321.2 517.0,321.8 517.2,323.7 517.3,322.3 517.5,322.8 517.7,322.5 517.9,322.7 518.1,322.1 518.3,323.0 518.5,321.8 518.7,322.4 518.9,322.9 519.0,322.8 519.2,323.1 519.4,321.9 519.6,323.0 519.8,322.5 520.0,323.1 520.2,324.2 520.4,321.9 520.5,323.8 520.7,322.2 520.9,322.4 521.1,324.4 521.3,323.8 521.5,323.4 521.7,323.7 521.9,324.0 522.1,322.2 522.2,323.2 522.4,322.6 522.6,323.4 522.8,322.7 523.0,323.7 523.2,323.1 523.4,322.5 523.6,323.0 523.7,323.5 523.9,324.1 524.1,323.0 524.3,322.8 524.5,323.4 524.7,323.9 524.9,322.7 525.1,320.9 525.3,323.5 525.4,322.9 525.6,322.9 525.8,325.7 526.0,323.2 526.2,324.0 526.4,322.0 526.6,323.6 526.8,324.1 527.0,323.6 527.1,323.2 527.3,323.9 527.5,323.5 527.7,324.7 527.9,323.7 528.1,322.7 528.3,321.6 528.5,322.8 528.6,323.3 528.8,322.4 529.0,322.6 529.2,322.0 529.4,322.6 529.6,323.7 529.8,323.4 530.0,323.5 530.2,323.4 530.3,323.5 530.5,324.4 530.7,325.6 530.9,324.3 531.1,325.6 531.3,323.7 531.5,323.8 531.7,325.3 531.8,323.2 532.0,323.0 532.2,323.7 532.4,322.3 532.6,322.2 532.8,325.0 533.0,323.0 533.2,323.5 533.4,323.5 533.5,323.1 533.7,324.6 533.9,324.5 534.1,324.8 534.3,324.7 534.5,324.1 534.7,325.4 534.9,325.0 535.0,323.6 535.2,324.2 535.4,323.8 535.6,325.8 535.8,324.8"/>
<polyline stroke="#ff0000" stroke-width="1.9" points="170.1,247.5 170.2,247.7 170.3,242.1 170.4,244.4 170.4,242.7 170.5,237.2 170.6,239.3 170.7,233.6 170.7,235.3 170.8,232.9 170.9,231.1 171.0,215.4 171.0,216.6 171.1,208.4 171.2,201.3 171.3,191.3 171.3,180.4 171.4,161.5 171.5,155.2 171.6,139.3 171.6,118.0 171.7,97.4 171.8,67.5 171.9,42.5 171.9,22.3 172.0,-2.1 172.1,-30.0 172.2,-58.2 172.2,-64.9 172.3,-90.2 172.4,-94.9 172.5,-104.7 172.5,-95.3 172.6,-89.3 172.7,-72.3 172.8,-56.7 172.8,-43.8 172.9,-20.1 173.0,6.4 173.1,30.7 173.2,56.2 173.2,72.8 173.3,91.4 173.4,109.6 173.5,125.8 173.5,143.2 173.6,152.4 173.7,163.1 173.8,168.2 173.8,174.2 173.9,187.0 174.0,194.5 174.1,197.1 174.1,202.9 174.2,206.9 174.3,207.9 174.4,213.7 174.4,211.1 174.5,215.6 174.6,216.6 174.7,219.9 174.7,223.4 174.8,225.8 174.9,225.3 175.0,227.8 175.0,226.9 175.1,229.1 175.2,234.5 175.3,231.5 175.3,237.0 175.4,236.0 175.5,236.1 175.6,242.6 175.6,237.1 175.7,237.9 175.8,239.8"/>
<polyline stroke="#ff0000" stroke-width="1.9" points="357.3,297.1 357.5,294.7 357.6,291.1 357.8,287.6 357.9,284.0 358.1,285.7 358.2,273.8 358.4,272.9 358.5,271.1 358.7,271.3 358.8,268.2 359.0,264.5 359.1,263.5 359.3,268.8 359.4,261.9 359.6,256.5 359.7,271.3 359.9,265.2 360.0,269.4 360.2,273.4 360.3,272.4 360.5,282.2 360.6,281.7 360.8,281.5 360.9,288.6 361.1,291.8 361.2,293.1 361.4,296.7 361.5,294.4 361.7,301.7 361.8,299.6"/>
<polyline stroke="#008000" points="83.9,280.3 84.1,279.2 84.3,280.3 84.5,277.4 84.7,279.3 84.8,279.1 85.0,279.1 85.2,277.8 85.4,280.0 85.6,277.0 85.8,278.2 86.0,278.8 86.2,279.0 86.3,278.1 86.5,277.1 86.7,277.2 86.9,278.3 87.1,277.3 87.3,278.7 87.5,276.6 87.7,279.0 87.9,282.8 88.0,276.4 88.2,278.7 88.4,281.1 88.6,279.2 88.8,280.5 89.0,274.9 89.2,277.9 89.4,281.8 89.5,277.8 89.7,279.5 89.9,275.1 90.1,280.7 90.3,283.0 90.5,278.6 90.7,279.3 90.9,279.5 91.1,282.7 91.2,277.8 91.4,275.5 91.6,282.2 91.8,276.4 92.0,279.7 92.2,274.1 92.4,277.7 92.6,278.9 92.7,276.4 92.9,277.5 93.1,279.6 93.3,277.1 93.5,279.4 93.7,281.8 93.9,274.6 94.1,279.1 94.3,279.6 94.4,277.7 94.6,281.3 94.8,280.9 95.0,279.3 95.2,279.3 95.4,278.2 95.6,276.2 95.8,279.2 96.0,277.4 96.1,277.1 96.3,280.3 96.5,277.8 96.7,280.0 96.9,276.2 97.1,277.4 97.3,278.2 97.5,280.7 97.6,278.0 97.8,279.6 98.0,276.8 98.2,278.4 98.4,279.7 98.6,276.4 98.8,276.8 99.0,279.2 99.2,275.9 99.3,278.7 99.5,278.7 99.7,277.9 99.9,279.5 100.1,278.9 100.3,278.4 100.5,275.1 100.7,275.2 100.8,278.5 101.0,275.0 101.2,278.1 101.4,277.3 101.6,276.3 101.8,277.4 102.0,273.4 102.2,277.5 102.4,280.2 102.5,275.5 102.7,278.7 102.9,278.5 103.1,283.6 103.3,276.0 103.5,276.3 103.7,276.4 103.9,276.0 104.0,274.7 104.2,277.9 104.4,276.1 104.6,279.2 104.8,278.5 105.0,275.8 105.2,277.1 105.4,280.3 105.6,277.1 105.7,278.1 105.9,279.4 106.1,277.0 106.3,278.6 106.5,280.8 106.7,280.0 106.9,274.5 107.1,280.8 107.2,277.5 107.4,276.8 107.6,276.7 107.8,280.3 108.0,278.6 108.2,277.7 108.4,276.5 108.6,279.2 108.8,280.2 108.9,276.2 109.1,276.0 109.3,277.4 109.5,279.3 109.7,277.4 109.9,277.9 110.1,276.6 110.3,280.5 110.4,278.0 110.6,278.5 110.8,280.3 111.0,277.8 111.2,278.2 111.4,279.1 111.6,277.5 111.8,281.0 112.0,278.4 112.1,277.5 112.3,277.8 112.5,276.3 112.7,280.7 112.9,281.3 113.1,278.0 113.3,277.6 113.5,274.5 113.7,277.3 113.8,280.2 114.0,277.0 114.2,280.1 114.4,281.4 114.6,273.6 114.8,278.0 115.0,277.3 115.2,277.6 115.3,275.2 115.5,278.1 115.7,276.4 115.9,280.6 116.1,281.3 116.3,276.0 116.5,276.0 116.7,277.8 116.9,278.3 117.0,278.5 117.2,280.1 117.4,275.9 117.6,277.6 117.8,277.9 118.0,278.2 118.2,276.9 118.4,278.0 118.5,277.5 118.7,281.1 118.9,278.0 119.1,274.9 119.3,280.0 119.5,279.3 119.7,277.4 119.9,277.3 120.1,278.0 120.2,282.3 120.4,278.3 120.6,281.6 120.8,281.0 121.0,278.5 121.2,280.2 121.4,278.2 121.6,273.9 121.7,278.4 121.9,278.6 122.1,281.7 122.3,281.3 122.5,282.2 122.7,281.3 122.9,282.4 123.1,281.7 123.3,281.0 123.4,282.5 123.6,283.4 123.8,283.4 124.0,280.1 124.2,280.9 124.4,279.2 124.6,279.2 124.8,281.9 124.9,280.1 125.1,284.1 125.3,277.3 125.5,279.4 125.7,282.1 125.9,284.0 126.1,281.2 126.3,285.5 126.5,283.5 126.6,280.8 126.8,282.1 127.0,283.3 127.2,280.7 127.4,284.5 127.6,282.1 127.8,283.6 128.0,284.4 128.1,282.0 128.3,284.8 128.5,279.5 128.7,284.2 128.9,279.6 129.1,285.3 129.3,282.3 129.5,285.7 129.7,286.1 129.8,283.4 130.0,282.5 130.2,286.2 130.4,281.8 130.6,285.5 130.8,283.9 131.0,283.5 131.2,283.2 131.3,287.7 131.5,281.5 131.7,283.5 131.9,285.4 132.1,286.6 132.3,287.9 132.5,287.4 132.7,284.0 132.9,285.7 133.0,287.3 133.2,286.2 133.4,282.5 133.6,286.1 133.8,286.6 134.0,283.2 134.2,284.9 134.4,285.7 134.6,287.0 134.7,288.8 134.9,288.2 135.1,287.0 135.3,286.6 135.5,285.7 135.7,285.4 135.9,286.1 136.1,286.2 136.2,288.5 136.4,290.7 136.6,287.8 136.8,288.7 137.0,288.2 137.2,287.6 137.4,289.5 137.6,289.3 137.8,287.6 137.9,287.3 138.1,288.8 138.3,286.8 138.5,288.1 138.7,289.7 138.9,287.8 139.1,284.6 139.3,289.3 139.4,286.1 139.6,285.8 139.8,285.6 140.0,289.9 140.2,284.9 140.4,288.4 140.6,289.1 140.8,289.1 141.0,287.7 141.1,288.8 141.3,289.2 141.5,286.7 141.7,290.3 141.9,290.9 142.1,287.7 142.3,287.9 142.5,287.3 142.6,291.2 142.8,287.4 143.0,288.5 143.2,286.3 143.4,291.8 143.6,289.2 143.8,290.1 144.0,292.5 144.2,291.0 144.3,287.8 144.5,290.7 144.7,291.2 144.9,288.4 145.1,288.3 145.3,288.3 145.5,291.5 145.7,290.3 145.8,288.4 146.0,291.5 146.2,291.7 146.4,288.9 146.6,287.7 146.8,292.6 147.0,295.2 147.2,293.2 147.4,292.5 147.5,291.0 147.7,289.7 147.9,291.1 148.1,292.2 148.3,290.7 148.5,292.7 148.7,291.2 148.9,292.3 149.0,286.4 149.2,289.8 149.4,292.8 149.6,293.1 149.8,292.2 150.0,294.4 150.2,292.8 150.4,292.9 150.6,290.1 150.7,292.4 150.9,293.1 151.1,294.2 151.3,293.9 151.5,292.0 151.7,292.3 151.9,290.0 152.1,293.2 152.2,290.2 152.4,291.7 152.6,292.2 152.8,295.8 153.0,294.6 153.2,291.1 153.4,290.0 153.6,292.1 153.8,291.2 153.9,293.3 154.1,293.3 154.3,293.8 154.5,291.0 154.7,292.2 154.9,293.2 155.1,293.5 155.3,292.0 155.5,292.4 155.6,294.5 155.8,290.1 156.0,292.7 156.2,293.2 156.4,290.6 156.6,291.5 156.8,293.5 157.0,292.4 157.1,295.3 157.3,294.6 157.5,297.5 157.7,291.4 157.9,296.9 158.1,292.5 158.3,295.2 158.5,295.5 158.7,294.1 158.8,293.4 159.0,292.8 159.2,290.8 159.4,293.3 159.6,292.5 159.8,295.1 160.0,292.8 160.2,293.8 160.3,294.9 160.5,294.3 160.7,294.2 160.9,293.8 161.1,293.4 161.3,295.0 161.5,295.4 161.7,292.8 161.9,297.0 162.0,295.1 162.2,291.3 162.4,298.7 162.6,295.2 162.8,292.8 163.0,296.8 163.2,289.4 163.4,298.4 163.5,291.3 163.7,291.1 163.9,292.2 164.1,294.1 164.3,293.1 164.5,295.2 164.7,292.2 164.9,295.5 165.1,294.0 165.2,291.7 165.4,295.3 165.6,293.9 165.8,292.9 166.0,295.4 166.2,291.0 166.4,292.3 166.6,295.5 166.7,292.8 166.9,293.9 167.1,293.6 167.3,292.1 167.5,293.3 167.7,290.2 167.9,292.9 168.1,289.7 168.3,291.2 168.4,289.3 168.6,291.5 168.8,291.1 169.0,291.8 169.1,288.6 169.2,287.7 169.2,285.4 169.3,286.7 169.4,288.3 169.5,288.9 169.5,287.6 169.6,288.1 169.7,285.1 169.8,285.8 169.8,288.7 169.9,288.1 170.0,284.0 170.1,285.6 170.1,286.1 170.2,283.1 170.3,285.6 170.4,284.9 170.4,284.7 170.5,286.9 170.6,281.1 170.7,284.3 170.7,282.5 170.8,282.1 170.9,278.5 171.0,279.2 171.0,278.1 171.1,280.3 171.2,276.2 171.3,277.6 171.3,272.9 171.4,271.3 171.5,270.4 171.6,264.8 171.6,265.7 171.7,263.3 171.8,261.7 171.9,259.6 171.9,254.3 172.0,250.5 172.1,251.0 172.2,241.9 172.2,237.6 172.3,230.7 172.4,224.6 172.5,219.8 172.5,210.5 172.6,194.3 172.7,185.3 172.8,175.0 172.8,156.5 172.9,141.1 173.0,125.7 173.1,107.2 173.2,86.0 173.2,63.0 173.3,46.0 173.4,32.1 173.5,21.7 173.5,17.9 173.6,26.3 173.7,32.4 173.8,47.7 173.8,66.2 173.9,84.4 174.0,103.5 174.1,123.3 174.1,143.8 174.2,158.8 174.3,169.3 174.4,188.6 174.4,201.9 174.5,208.7 174.6,217.4 174.7,225.7 174.7,235.7 174.8,237.9 174.9,246.6 175.0,252.0 175.0,255.1 175.1,257.7 175.2,259.4 175.3,262.4 175.3,266.1 175.4,266.5 175.5,270.2 175.6,270.4 175.6,276.4 175.7,278.3 175.8,275.2 175.9,280.5 175.9,279.6 176.0,280.3 176.1,282.0 176.2,282.9 176.2,280.3 176.3,288.3 176.4,282.7 176.5,280.8 176.5,285.6 176.6,286.3 176.7,285.5 176.8,284.1 176.8,290.0 176.9,288.2 177.0,289.1 177.1,288.2 177.1,289.3 177.2,288.8 177.5,291.9 177.7,291.8 177.9,293.7 178.0,294.3 178.2,293.9 178.4,294.4 178.6,296.6 178.8,292.3 179.0,295.6 179.2,298.1 179.4,294.2 179.6,297.6 179.7,295.8 179.9,296.9 180.1,296.7 180.3,297.1 180.5,298.6 180.7,297.7 180.9,294.6 181.1,301.9 181.2,298.2 181.4,297.8 181.6,300.4 181.8,301.1 182.0,295.3 182.2,299.7 182.4,295.8 182.6,298.5 182.8,299.4 182.9,298.8 183.1,298.7 183.3,297.9 183.5,299.2 183.7,299.8 183.9,299.9 184.1,298.1 184.3,299.1 184.4,302.2 184.6,301.7 184.8,300.2 185.0,301.9 185.2,301.6 185.4,302.6 185.6,301.6 185.8,300.5 186.0,299.7 186.1,301.4 186.3,298.1 186.5,301.7 186.7,296.5 186.9,300.2 187.1,301.1 187.3,302.8 187.5,306.6 187.6,302.4 187.8,302.0 188.0,299.2 188.2,304.6 188.4,299.4 188.6,303.0 188.8,301.5 189.0,306.8 189.2,302.6 189.3,303.5 189.5,301.9 189.7,303.0 189.9,305.0 190.1,301.7 190.3,302.2 190.5,302.5 190.7,301.9 190.8,301.8 191.0,303.7 191.2,305.9 191.4,306.0 191.6,301.8 191.8,302.9 192.0,303.9 192.2,304.8 192.4,304.2 192.5,304.3 192.7,304.9 192.9,305.6 193.1,301.1 193.3,304.3 193.5,305.7 193.7,306.8 193.9,306.0 194.1,303.8 194.2,303.8 194.4,305.4 194.6,305.1 194.8,305.7 195.0,307.0 195.2,303.4 195.4,304.9 195.6,301.7 195.7,306.8 195.9,305.9 196.1,304.4 196.3,306.2 196.5,308.1 196.7,307.5 196.9,305.9 197.1,305.6 197.3,306.4 197.4,304.8 197.6,304.9 197.8,306.0 198.0,306.5 198.2,307.0 198.4,305.9 198.6,305.4 198.8,306.7 198.9,306.2 199.1,307.5 199.3,309.2 199.5,308.6 199.7,306.0 199.9,306.6 200.1,304.9 200.3,307.3 200.5,306.1 200.6,305.5 200.8,306.1 201.0,308.5 201.2,307.9 201.4,307.5 201.6,309.2 201.8,307.1 202.0,306.3 202.1,308.6 202.3,305.0 202.5,308.4 202.7,308.3 202.9,308.4 203.1,309.1 203.3,307.5 203.5,308.1 203.7,305.7 203.8,307.3 204.0,307.3 204.2,308.4 204.4,310.1 204.6,308.1 204.8,309.1 205.0,306.2 205.2,307.5 205.3,304.7 205.5,305.9 205.7,305.4 205.9,306.1 206.1,305.9 206.3,305.0 206.5,304.5 206.7,307.0 206.9,305.3 207.0,302.3 207.2,306.7 207.4,307.4 207.6,308.4 207.8,309.9 208.0,306.4 208.2,308.4 208.4,308.4 208.5,306.5 208.7,305.8 208.9,310.9 209.1,308.3 209.3,309.1 209.5,309.6 209.7,309.6 209.9,310.5 210.1,308.3 210.2,309.8 210.4,310.3 210.6,309.1 210.8,309.7 211.0,310.4 211.2,310.6 211.4,308.8 211.6,310.6 211.8,311.5 211.9,312.6 212.1,312.0 212.3,313.1 212.5,311.5 212.7,311.4 212.9,314.7 213.1,311.9 213.3,311.1 213.4,311.9 213.6,313.5 213.8,310.5 214.0,313.3 214.2,314.1 214.4,314.0 214.6,312.6 214.8,311.3 215.0,311.2 215.1,312.5 215.3,314.5 215.5,313.9 215.7,314.2 215.9,313.4 216.1,315.6 216.3,313.1 216.5,312.5 216.6,313.6 216.8,312.9 217.0,314.8 217.2,315.5 217.4,314.5 217.6,312.2 217.8,312.4 218.0,314.4 218.2,312.3 218.3,314.4 218.5,312.0 218.7,313.4 218.9,314.7 219.1,313.1 219.3,315.2 219.5,315.5 219.7,316.2 219.8,314.0 220.0,314.5 220.2,314.6 220.4,315.1 220.6,312.8 220.8,315.2 221.0,315.7 221.2,313.2 221.4,313.0 221.5,314.5 221.7,317.2 221.9,315.8 222.1,314.3 222.3,315.1 222.5,313.2 222.7,317.0 222.9,314.4 223.0,316.1 223.2,313.7 223.4,315.5 223.6,314.2 223.8,316.4 224.0,317.4 224.2,317.1 224.4,316.5 224.6,317.1 224.7,314.3 224.9,314.2 225.1,315.6 225.3,317.3 225.5,316.2 225.7,317.0 225.9,314.4 226.1,315.8 226.2,315.7 226.4,316.8 226.6,318.9 226.8,317.4 227.0,317.9 227.2,316.1 227.4,316.5 227.6,317.7 227.8,317.2 227.9,314.9 228.1,318.0 228.3,318.0 228.5,317.2 228.7,317.9 228.9,317.6 229.1,316.5 229.3,315.1 229.4,319.4 229.6,317.3 229.8,317.2 230.0,317.4 230.2,317.6 230.4,317.8 230.6,316.2 230.8,318.0 231.0,317.6 231.1,317.5 231.3,317.3 231.5,317.7 231.7,316.3 231.9,317.5 232.1,317.3 232.3,317.6 232.5,318.7 232.7,318.5 232.8,318.8 233.0,317.3 233.2,318.4 233.4,318.9 233.6,317.3 233.8,317.0 234.0,319.7 234.2,315.6 234.3,317.6 234.5,317.8 234.7,316.4 234.9,317.6 235.1,318.4 235.3,315.0 235.5,319.0 235.7,317.8 235.9,316.7 236.0,319.0 236.2,317.8 236.4,317.3 236.6,314.9 236.8,318.8 237.0,317.8 237.2,317.0 237.4,317.7 237.5,319.2 237.7,317.3 237.9,317.7 238.1,317.3 238.3,316.5 238.5,316.6 238.7,317.4 238.9,317.5 239.1,319.2 239.2,318.0 239.4,317.6 239.6,318.4 239.8,317.8 240.0,318.9 240.2,316.1 240.4,315.4 240.6,318.4 240.7,317.5 240.9,318.3 241.1,316.5 241.3,317.5 241.5,317.9 241.7,318.3 241.9,317.9 242.1,319.2 242.3,317.2 242.4,318.9 242.6,317.4 242.8,317.9 243.0,316.8 243.2,318.1 243.4,316.9 243.6,319.2 243.8,317.4 243.9,318.4 244.1,317.9 244.3,318.1 244.5,317.1 244.7,320.6 244.9,317.8 245.1,320.0 245.3,316.8 245.5,320.6 245.6,319.4 245.8,320.2 246.0,316.3 246.2,319.8 246.4,318.1 246.6,318.9 246.8,320.4 247.0,318.7 247.1,317.5 247.3,318.5 247.5,317.2 247.7,318.8 247.9,318.3 248.1,318.8 248.3,318.0 248.5,316.1 248.7,318.0 248.8,318.2 249.0,319.1 249.2,319.3 249.4,316.7 249.6,319.8 249.8,319.5 250.0,318.6 250.2,319.0 250.3,316.2 250.5,321.3 250.7,318.1 250.9,317.7 251.1,319.9 251.3,319.3 251.5,318.0 251.7,316.6 251.9,319.7 252.0,320.5 252.2,317.5 252.4,316.8 252.6,319.0 252.8,321.3 253.0,316.9 253.2,318.9 253.4,317.4 253.6,318.7 253.7,319.1 253.9,319.2 254.1,317.0 254.3,317.1 254.5,321.3 254.7,319.9 254.9,316.7 255.1,319.2 255.2,320.4 255.4,318.8 255.6,319.0 255.8,319.0 256.0,319.4 256.2,319.2 256.4,319.4 256.6,318.5 256.8,319.9 256.9,319.3 257.1,319.1 257.3,317.4 257.5,318.5 257.7,319.1 257.9,318.4 258.1,318.5 258.3,317.7 258.4,318.4 258.6,316.9 258.8,317.5 259.0,319.1 259.2,319.5 259.4,318.0 259.6,318.5 259.8,319.2 260.0,320.8 260.1,321.3 260.3,318.7 260.5,318.3 260.7,318.2 260.9,320.7 261.1,318.0 261.3,319.8 261.5,318.8 261.6,318.7 261.8,320.2 262.0,319.9 262.2,321.7 262.4,320.3 262.6,321.4 262.8,318.8 263.0,319.2 263.2,318.3 263.3,318.9 263.5,320.1 263.7,319.0 263.9,319.8 264.1,318.7 264.3,319.0 264.5,320.6 264.7,319.4 264.8,319.4 265.0,319.8 265.2,318.4 265.4,317.5 265.6,319.9 265.8,319.9 266.0,322.1 266.2,319.7 266.4,320.0 266.5,322.0 266.7,319.2 266.9,318.9 267.1,320.4 267.3,320.0 267.5,320.7 267.7,318.8 267.9,321.4 268.0,320.0 268.2,317.4 268.4,319.6 268.6,319.2 268.8,319.9 269.0,321.0 269.2,319.8 269.4,319.3 269.6,320.9 269.7,319.4 269.9,318.4 270.1,318.6 270.3,321.6 270.5,320.9 270.7,321.6 270.9,318.6 271.1,319.2 271.3,319.1 271.4,320.9 271.6,321.2 271.8,319.8 272.0,319.8 272.2,320.9 272.4,319.8 272.6,319.2 272.8,319.7 272.9,321.1 273.1,322.3 273.3,320.3 273.5,319.8 273.7,320.3 273.9,320.5 274.1,320.8 274.3,319.3 274.5,320.1 274.6,319.9 274.8,321.2 275.0,320.8 275.2,319.9 275.4,321.2 275.6,321.5 275.8,320.5 276.0,318.8 276.1,320.0 276.3,318.6 276.5,320.4 276.7,320.6 276.9,321.8 277.1,320.9 277.3,318.7 277.5,319.9 277.7,319.5 277.8,319.5 278.0,320.3 278.2,320.6 278.4,320.2 278.6,319.7 278.8,319.9 279.0,319.9 279.2,320.3 279.3,321.3 279.5,320.8 279.7,321.6 279.9,319.5 280.1,322.9 280.3,320.9 280.5,318.1 280.7,321.1 280.9,322.0 281.0,320.8 281.2,319.4 281.4,321.0 281.6,320.2 281.8,320.8 282.0,321.3 282.2,317.6 282.4,320.9 282.5,321.6 282.7,321.6 282.9,320.7 283.1,320.7 283.3,320.3 283.5,321.0 283.7,322.7 283.9,320.7 284.1,321.6 284.2,321.6 284.4,322.9 284.6,322.0 284.8,322.1 285.0,321.5 285.2,322.9 285.4,321.4 285.6,321.4 285.7,322.7 285.9,322.2 286.1,322.5 286.3,320.7 286.5,324.2 286.7,322.0 286.9,323.4 287.1,322.2 287.3,320.9 287.4,322.5 287.6,321.7 287.8,322.7 288.0,320.0 288.2,321.0 288.4,320.8 288.6,323.3 288.8,323.1 288.9,321.0 289.1,322.3 289.3,322.4 289.5,321.8 289.7,323.4 289.9,321.4 290.1,322.2 290.3,321.7 290.5,322.9 290.6,321.7 290.8,322.9 291.0,321.3 291.2,321.2 291.4,321.4 291.6,321.8 291.8,321.7 292.0,325.0 292.2,321.5 292.3,322.6 292.5,322.3 292.7,322.6 292.9,323.7 293.1,322.9 293.3,321.8 293.5,321.0 293.7,323.0 293.8,323.3 294.0,321.0 294.2,323.3 294.4,320.5 294.6,322.4 294.8,323.4 295.0,321.6 295.2,320.9 295.4,323.9 295.5,321.0 295.7,322.8 295.9,321.1 296.1,323.0 296.3,324.1 296.5,322.1 296.7,321.7 296.9,320.6 297.0,321.0 297.2,322.0 297.4,322.9 297.6,323.2 297.8,323.0 298.0,323.5 298.2,323.0 298.4,325.2 298.6,322.6 298.7,322.8 298.9,320.3 299.1,322.1 299.3,323.3 299.5,322.3 299.7,324.0 299.9,323.4 300.1,324.6 300.2,321.5 300.4,322.3 300.6,324.0 300.8,323.0 301.0,322.0 301.2,322.5 301.4,322.6 301.6,323.7 301.8,323.6 301.9,322.9 302.1,322.1 302.3,323.8 302.5,324.1 302.7,321.9 302.9,323.9 303.1,322.0 303.3,322.8 303.4,322.2 303.6,321.5 303.8,322.4 304.0,322.4 304.2,324.0 304.4,323.8 304.6,322.5 304.8,321.7 305.0,321.9 305.1,321.0 305.3,322.9 305.5,323.0 305.7,322.3 305.9,323.2 306.1,323.3 306.3,324.2 306.5,322.3 306.6,324.3 306.8,322.8 307.0,324.6 307.2,322.3 307.4,324.3 307.6,322.6 307.8,324.8 308.0,323.8 308.2,322.3 308.3,324.1 308.5,323.3 308.7,323.9 308.9,325.5 309.1,323.2 309.3,323.1 309.5,324.6 309.7,323.1 309.9,324.4 310.0,324.7 310.2,323.8 310.4,324.5 310.6,321.9 310.8,325.3 311.0,323.3 311.2,323.1 311.4,325.7 311.5,325.5 311.7,323.5 311.9,324.4 312.1,323.7 312.3,323.0 312.5,324.3 312.7,324.9 312.9,326.4 313.1,323.8 313.2,324.8 313.4,323.7 313.6,323.8 313.8,325.2 314.0,322.5 314.2,323.1 314.4,323.3 314.6,325.1 314.7,324.4 314.9,324.5 315.1,324.4 315.3,325.0 315.5,323.7 315.7,323.9 315.9,323.7 316.1,324.5 316.3,322.9 316.4,323.9 316.6,326.5 316.8,324.6 317.0,324.1 317.2,323.2 317.4,324.3 317.6,324.3 317.8,324.7 317.9,323.5 318.1,324.5 318.3,324.6 318.5,324.7 318.7,323.6 318.9,324.6 319.1,325.6 319.3,323.6 319.5,324.7 319.6,323.8 319.8,323.8 320.0,323.1 320.2,323.2 320.4,324.6 320.6,324.3 320.8,325.3 321.0,322.7 321.1,323.8 321.3,322.9 321.5,324.4 321.7,325.9 321.9,322.8 322.1,324.1 322.3,324.1 322.5,324.1 322.7,323.6 322.8,323.7 323.0,325.6 323.2,323.2 323.4,324.6 323.6,324.6 323.8,322.7 324.0,323.4 324.2,324.5 324.3,325.8 324.5,324.1 324.7,323.7 324.9,324.3 325.1,325.3 325.3,324.9 325.5,325.3 325.7,324.0 325.9,323.5 326.0,323.3 326.2,324.9 326.4,324.0 326.6,323.8 326.8,324.7 327.0,324.4 327.2,322.4 327.4,324.1 327.5,323.5 327.7,324.6 327.9,324.2 328.1,325.7 328.3,324.3 328.5,323.2 328.7,322.5 328.9,323.3 329.1,323.7 329.2,324.2 329.4,324.8 329.6,324.4 329.8,323.8 330.0,325.0 330.2,323.5 330.4,325.1 330.6,325.8 330.8,325.2 330.9,325.7 331.1,325.5 331.3,323.3 331.5,324.5 331.7,324.1 331.9,323.3 332.1,323.2 332.3,324.7 332.4,323.1 332.6,323.9 332.8,324.3 333.0,323.9 333.2,325.5 333.4,324.9 333.6,324.4 333.8,323.7 334.0,324.6 334.1,324.4 334.3,323.4 334.5,323.0 334.7,323.6 334.9,323.2 335.1,324.6 335.3,324.5 335.5,324.0 335.6,324.5 335.8,324.7 336.0,322.8 336.2,324.4 336.4,325.1 336.6,323.8 336.8,322.6 337.0,324.1 337.2,323.2 337.3,324.6 337.5,324.6 337.7,324.8 337.9,324.3 338.1,322.6 338.3,325.2 338.5,322.8 338.7,325.1 338.8,324.4 339.0,323.5 339.2,323.6 339.4,323.9 339.6,325.6 339.8,323.9 340.0,325.1 340.2,321.9 340.4,324.4 340.5,324.0 340.7,325.2 340.9,324.6 341.1,325.3 341.3,323.3 341.5,324.4 341.7,323.7 341.9,324.7 342.0,324.6 342.2,323.0 342.4,325.0 342.6,325.7 342.8,323.8 343.0,325.1 343.2,324.5 343.4,323.3 343.6,324.8 343.7,323.3 343.9,324.7 344.1,322.8 344.3,322.9 344.5,324.5 344.7,324.3 344.9,324.8 345.1,323.9 345.2,323.1 345.4,325.3 345.6,323.3 345.8,325.2 346.0,324.8 346.2,325.6 346.4,322.2 346.6,324.0 346.8,323.8 346.9,324.6 347.1,323.1 347.3,325.9 347.5,324.0 347.7,322.1 347.9,324.3 348.1,324.0 348.3,323.4 348.4,324.7 348.6,324.0 348.8,323.1 349.0,323.8 349.2,323.6 349.4,324.2 349.6,323.7 349.8,323.9 350.0,322.6 350.1,323.3 350.3,324.1 350.5,326.1 350.7,323.3 350.9,323.2 351.1,324.7 351.3,325.6 351.5,324.9 351.7,323.0 351.8,324.8 352.0,324.2 352.2,323.6 352.4,322.7 352.6,323.8 352.8,323.9 353.0,324.3 353.2,322.3 353.3,322.8 353.5,323.8 353.7,324.9 353.9,324.4 354.1,323.1 354.3,324.3 354.5,322.8 354.7,323.2 354.9,323.2 355.0,322.9 355.2,322.9 355.4,324.1 355.6,323.6 355.8,321.1 356.0,324.3 356.2,323.5 356.4,321.9 356.5,323.0 356.7,323.5 356.8,323.9 357.0,321.9 357.1,321.3 357.3,320.7 357.5,321.8 357.6,320.5 357.8,322.2 357.9,320.5 358.1,320.9 358.2,319.3 358.4,317.8 358.5,316.4 358.7,317.8 358.8,313.6 359.0,314.3 359.1,313.4 359.3,310.3 359.4,310.0 359.6,305.6 359.7,302.8 359.9,301.2 360.0,297.6 360.2,296.9 360.3,294.6 360.5,295.8 360.6,292.5 360.8,294.1 360.9,294.1 361.1,294.8 361.2,296.1 361.4,301.3 361.5,303.4 361.7,303.8 361.8,304.9 362.0,307.4 362.1,308.8 362.3,310.3 362.4,313.1 362.6,315.4 362.7,318.0 362.9,319.0 363.0,319.4 363.2,319.3 363.3,320.0 363.5,320.8 363.6,321.5 363.8,321.0 363.9,321.8 364.3,322.2 364.5,322.4 364.6,323.4 364.8,324.0 365.0,322.7 365.2,322.9 365.4,323.6 365.6,323.8 365.8,321.5 366.0,324.3 366.1,323.9 366.3,323.5 366.5,324.8 366.7,323.7 366.9,322.3 367.1,323.1 367.3,323.4 367.5,323.5 367.7,323.9 367.8,323.2 368.0,324.2 368.2,324.5 368.4,324.1 368.6,323.4 368.8,323.9 369.0,323.6 369.2,326.0 369.4,323.2 369.5,322.3 369.7,323.2 369.9,324.6 370.1,325.1 370.3,324.1 370.5,325.2 370.7,323.8 370.9,324.9 371.0,323.6 371.2,323.3 371.4,326.2 371.6,324.2 371.8,325.1 372.0,325.7 372.2,325.0 372.4,324.7 372.6,323.6 372.7,325.8 372.9,323.6 373.1,322.8 373.3,324.0 373.5,324.1 373.7,324.6 373.9,325.6 374.1,324.1 374.2,324.3 374.4,324.0 374.6,322.5 374.8,324.0 375.0,324.3 375.2,323.3 375.4,325.8 375.6,325.6 375.8,325.0 375.9,325.2 376.1,324.1 376.3,325.0 376.5,323.3 376.7,323.4 376.9,324.1 377.1,325.1 377.3,324.2 377.4,324.1 377.6,325.6 377.8,324.5 378.0,324.2 378.2,324.6 378.4,323.5 378.6,323.8 378.8,325.5 379.0,324.7 379.1,325.5 379.3,324.3 379.5,325.5 379.7,324.1 379.9,324.5 380.1,324.1 380.3,325.0 380.5,326.1 380.6,323.4 380.8,325.0 381.0,323.8 381.2,324.5 381.4,324.4 381.6,323.4 381.8,324.6 382.0,323.8 382.2,326.2 382.3,324.2 382.5,325.1 382.7,325.1 382.9,325.0 383.1,324.7 383.3,323.6 383.5,326.5 383.7,325.0 383.8,325.6 384.0,324.0 384.2,325.4 384.4,324.6 384.6,325.3 384.8,324.5 385.0,324.2 385.2,325.4 385.4,325.0 385.5,326.2 385.7,324.8 385.9,324.4 386.1,325.5 386.3,324.2 386.5,326.8 386.7,326.6 386.9,326.2 387.0,325.5 387.2,325.1 387.4,325.2 387.6,325.2 387.8,324.5 388.0,325.5 388.2,326.2 388.4,326.2 388.6,323.4 388.7,327.1 388.9,325.3 389.1,324.0 389.3,324.8 389.5,325.9 389.7,325.2 389.9,324.5 390.1,324.2 390.3,325.9 390.4,324.6 390.6,325.0 390.8,324.3 391.0,324.1 391.2,325.5 391.4,326.4 391.6,324.9 391.8,323.8 391.9,324.7 392.1,325.1 392.3,323.4 392.5,326.1 392.7,324.6 392.9,325.8 393.1,325.3 393.3,325.2 393.5,324.1 393.6,326.1 393.8,325.8 394.0,326.6 394.2,325.0 394.4,325.7 394.6,325.0 394.8,326.2 395.0,325.7 395.1,324.6 395.3,325.5 395.5,324.9 395.7,325.0 395.9,325.7 396.1,326.7 396.3,324.7 396.5,325.3 396.7,324.7 396.8,327.0 397.0,326.8 397.2,327.2 397.4,326.2 397.6,324.7 397.8,325.1 398.0,325.5 398.2,325.4 398.3,324.9 398.5,325.8 398.7,325.2 398.9,325.4 399.1,327.3 399.3,325.9 399.5,324.5 399.7,325.9 399.9,325.7 400.0,326.1 400.2,326.0 400.4,324.7 400.6,325.8 400.8,326.4 401.0,328.1 401.2,326.1 401.4,327.2 401.5,327.1 401.7,325.0 401.9,325.1 402.1,327.2 402.3,325.0 402.5,325.3 402.7,326.3 402.9,325.1 403.1,327.0 403.2,326.7 403.4,326.8 403.6,326.6 403.8,325.1 404.0,326.8 404.2,326.7 404.4,326.5 404.6,325.6 404.7,326.1 404.9,325.1 405.1,326.4 405.3,326.8 405.5,326.2 405.7,325.8 405.9,326.6 406.1,325.6 406.3,324.5 406.4,326.3 406.6,325.8 406.8,324.9 407.0,326.4 407.2,326.6 407.4,326.7 407.6,325.6 407.8,325.5 407.9,326.1 408.1,325.9 408.3,325.0 408.5,325.3 408.7,327.0 408.9,326.0 409.1,325.9 409.3,325.5 409.5,326.2 409.6,326.5 409.8,326.4 410.0,327.4 410.2,326.1 410.4,326.5 410.6,325.7 410.8,326.8 411.0,326.4 411.2,326.8 411.3,326.9 411.5,325.6 411.7,326.4 411.9,325.8 412.1,327.0 412.3,326.0 412.5,327.4 412.7,326.5 412.8,326.5 413.0,325.7 413.2,326.0 413.4,326.3 413.6,325.5 413.8,326.0 414.0,325.8 414.2,325.6 414.4,326.2 414.5,326.4 414.7,326.0 414.9,326.5 415.1,325.9 415.3,325.4 415.5,325.6 415.7,326.5 415.9,327.2 416.0,326.3 416.2,326.3 416.4,325.4 416.6,326.5 416.8,326.4 417.0,325.7 417.2,326.6 417.4,326.4 417.6,325.0 417.7,325.2 417.9,325.8 418.1,326.1 418.3,327.0 418.5,325.9 418.7,326.3 418.9,326.2 419.1,326.7 419.2,326.3 419.4,326.5 419.6,326.1 419.8,325.3 420.0,326.1 420.2,327.6 420.4,327.1 420.6,327.5 420.8,327.0 420.9,326.0 421.1,326.1 421.3,326.8 421.5,326.2 421.7,327.0 421.9,327.5 422.1,327.4 422.3,327.0 422.4,325.4 422.6,327.4 422.8,325.5 423.0,325.5 423.2,326.6 423.4,326.5 423.6,326.9 423.8,326.5 424.0,326.0 424.1,326.5 424.3,325.7 424.5,325.6 424.7,326.2 424.9,326.2 425.1,326.5 425.3,326.2 425.5,327.3 425.6,326.2 425.8,326.3 426.0,327.1 426.2,324.9 426.4,327.2 426.6,327.1 426.8,326.3 427.0,327.9 427.2,327.1 427.3,327.6 427.5,327.2 427.7,326.6 427.9,326.2 428.1,325.6 428.3,325.9 428.5,325.6 428.7,326.0 428.9,326.7 429.0,325.6 429.2,326.7 429.4,326.8 429.6,325.2 429.8,325.7 430.0,326.1 430.2,325.6 430.4,325.5 430.5,327.1 430.7,326.0 430.9,326.7 431.1,325.5 431.3,326.0 431.5,324.1 431.7,324.6 431.9,325.4 432.1,324.4 432.2,325.0 432.4,323.5 432.6,322.6 432.8,322.4 433.0,324.1 433.2,322.1 433.4,320.8 433.6,320.6 433.7,319.4 433.9,321.8 434.1,319.8 434.3,321.1 434.5,320.4 434.7,320.5 434.9,320.6 435.1,322.4 435.3,322.1 435.4,323.9 435.6,324.5 435.8,323.2 436.0,324.2 436.2,325.9 436.4,325.5 436.6,325.1 436.8,324.2 436.9,324.8 437.1,325.2 437.3,327.4 437.5,326.2 437.7,325.9 437.9,326.1 438.1,326.1 438.3,326.7 438.5,325.3 438.6,325.6 438.8,326.7 439.0,327.4 439.2,325.3 439.4,327.2 439.6,325.9 439.8,325.5 440.0,327.5 440.1,326.7 440.3,327.1 440.5,326.5 440.7,326.7 440.9,325.6 441.1,326.5 441.3,327.0 441.5,326.2 441.7,327.2 441.8,327.3 442.0,325.5 442.2,327.6 442.4,327.4 442.6,327.0 442.8,327.8 443.0,328.6 443.2,326.4 443.3,327.7 443.5,327.5 443.7,327.4 443.9,327.8 444.1,327.9 444.3,327.1 444.5,325.5 444.7,326.7 444.9,326.7 445.0,328.3 445.2,327.3 445.4,328.1 445.6,326.7 445.8,327.4 446.0,327.2 446.2,327.3 446.4,327.7 446.5,328.3 446.7,326.9 446.9,328.3 447.1,328.1 447.3,327.5 447.5,327.8 447.7,327.1 447.9,326.6 448.1,327.2 448.2,327.2 448.4,327.3 448.6,326.7 448.8,328.6 449.0,327.0 449.2,327.9 449.4,328.1 449.6,327.2 449.8,327.5 449.9,326.7 450.1,326.3 450.3,328.7 450.5,327.0 450.7,325.5 450.9,326.2 451.1,325.7 451.3,326.6 451.4,327.6 451.6,327.3 451.8,325.8 452.0,325.5 452.2,326.7 452.4,326.2 452.6,325.7 452.8,327.2 453.0,326.0 453.1,324.4 453.3,323.9 453.5,325.6 453.7,324.1 453.9,326.0 454.1,326.3 454.3,327.4 454.5,325.1 454.6,326.2 454.8,324.3 455.0,325.9 455.2,326.2 455.4,327.8 455.6,325.5 455.8,327.0 456.0,326.9 456.2,328.5 456.3,326.4 456.5,326.5 456.7,327.7 456.9,327.3 457.1,327.2 457.3,326.9 457.5,327.5 457.7,326.5 457.8,327.9 458.0,328.2 458.2,328.1 458.4,329.5 458.6,328.4 458.8,327.3 459.0,327.8 459.2,328.5 459.4,327.8 459.5,329.3 459.7,328.2 459.9,327.7 460.1,327.6 460.3,328.6 460.5,327.5 460.7,327.0 460.9,328.4 461.0,327.7 461.2,329.2 461.4,329.4 461.6,327.8 461.8,328.2 462.0,328.1 462.2,328.6 462.4,328.5 462.6,327.8 462.7,327.2 462.9,328.4 463.1,329.3 463.3,327.6 463.5,328.0 463.7,327.9 463.9,328.3 464.1,327.0 464.2,328.4 464.4,328.1 464.6,329.6 464.8,328.8 465.0,328.9 465.2,328.5 465.4,328.3 465.6,328.9 465.8,327.4 465.9,329.2 466.1,328.8 466.3,328.4 466.5,329.3 466.7,328.2 466.9,328.2 467.1,328.7 467.3,327.4 467.5,328.5 467.6,328.4 467.8,329.2 468.0,329.6 468.2,329.0 468.4,328.8 468.6,328.9 468.8,328.2 469.0,330.1 469.1,329.3 469.3,329.7 469.5,327.8 469.7,329.0 469.9,329.0 470.1,329.3 470.3,328.1 470.5,328.9 470.7,328.6 470.8,329.9 471.0,328.0 471.2,328.5 471.4,328.4 471.6,328.0 471.8,328.9 472.0,328.8 472.2,328.3 472.3,328.5 472.5,328.9 472.7,328.7 472.9,329.1 473.1,328.4 473.3,328.2 473.5,328.8 473.7,327.7 473.9,329.7 474.0,329.0 474.2,327.8 474.4,329.1 474.6,329.8 474.8,328.0 475.0,328.5 475.2,329.6 475.4,328.4 475.5,329.5 475.7,329.7 475.9,329.0 476.1,329.2 476.3,329.5 476.5,329.1 476.7,329.5 476.9,328.9 477.1,328.9 477.2,328.5 477.4,329.2 477.6,329.7 477.8,329.7 478.0,329.1 478.2,328.1 478.4,328.5 478.6,329.4 478.7,328.5 478.9,329.7 479.1,328.5 479.3,329.3 479.5,328.7 479.7,328.8 479.9,329.3 480.1,329.0 480.3,329.8 480.4,329.2 480.6,328.6 480.8,326.9 481.0,328.8 481.2,329.2 481.4,329.8 481.6,328.7 481.8,330.2 481.9,329.8 482.1,329.1 482.3,330.0 482.5,328.5 482.7,328.8 482.9,329.7 483.1,329.7 483.3,330.1 483.5,330.2 483.6,329.2 483.8,329.1 484.0,329.3 484.2,329.4 484.4,329.8 484.6,329.3 484.8,330.3 485.0,329.6 485.1,328.8 485.3,328.9 485.5,329.9 485.7,329.8 485.9,328.9 486.1,328.7 486.3,330.5 486.5,329.9 486.7,329.6 486.8,329.1 487.0,330.2 487.2,329.4 487.4,329.9 487.6,328.5 487.8,329.6 488.0,329.9 488.2,330.0 488.4,329.3 488.5,329.5 488.7,330.4 488.9,329.8 489.1,330.6 489.3,330.3 489.5,330.6 489.7,330.6 489.9,330.3 490.0,330.5 490.2,329.7 490.4,329.6 490.6,330.1 490.8,330.6 491.0,329.6 491.2,331.1 491.4,331.0 491.6,329.6 491.7,329.7 491.9,329.5 492.1,330.2 492.3,330.7 492.5,330.3 492.7,329.8 492.9,330.5 493.1,330.4 493.2,330.8 493.4,330.7 493.6,329.6 493.8,329.9 494.0,330.7 494.2,330.7 494.4,330.4 494.6,329.8 494.8,330.7 494.9,330.2 495.1,331.2 495.3,330.8 495.5,329.9 495.7,329.7 495.9,330.7 496.1,330.6 496.3,329.8 496.4,330.4 496.6,330.5 496.8,329.9 497.0,330.1 497.2,329.6 497.4,329.8 497.6,330.5 497.8,330.3 498.0,330.2 498.1,330.9 498.3,330.7 498.5,329.7 498.7,331.0 498.9,329.7 499.1,330.1 499.3,330.3 499.5,330.0 499.6,330.0 499.8,329.7 500.0,330.5 500.2,330.4 500.4,330.4 500.6,329.3 500.8,329.8 501.0,330.8 501.2,330.5 501.3,330.7 501.5,330.3 501.7,330.2 501.9,329.2 502.1,331.3 502.3,329.8 502.5,330.1 502.7,330.7 502.8,330.4 503.0,330.6 503.2,330.3 503.4,329.9 503.6,331.1 503.8,329.7 504.0,330.6 504.2,329.6 504.4,330.2 504.5,329.8 504.7,330.1 504.9,329.9 505.1,330.4 505.3,330.9 505.5,330.1 505.7,330.1 505.9,329.4 506.0,331.5 506.2,330.6 506.4,329.9 506.6,331.1 506.8,330.6 507.0,329.4 507.2,329.8 507.4,330.9 507.6,329.8 507.7,329.9 507.9,330.1 508.1,330.3 508.3,330.4 508.5,331.0 508.7,330.8 508.9,330.2 509.1,330.5 509.3,329.6 509.4,330.7 509.6,331.8 509.8,330.7 510.0,330.4 510.2,330.4 510.4,330.5 510.6,331.0 510.8,329.9 510.9,330.9 511.1,330.2 511.3,330.7 511.5,331.2 511.7,329.9 511.9,331.9 512.1,331.0 512.3,330.4 512.5,330.8 512.6,330.3 512.8,330.7 513.0,330.9 513.2,329.6 513.4,330.8 513.6,330.7 513.8,331.2 514.0,331.0 514.1,330.4 514.3,330.4 514.5,330.7 514.7,331.0 514.9,330.4 515.1,331.5 515.3,330.9 515.5,330.8 515.7,331.1 515.8,330.6 516.0,331.1 516.2,331.1 516.4,329.9 516.6,330.4 516.8,330.2 517.0,330.7 517.2,330.3 517.3,330.4 517.5,330.2 517.7,329.6 517.9,330.9 518.1,330.6 518.3,330.8 518.5,332.5 518.7,331.5 518.9,330.8 519.0,330.5 519.2,331.1 519.4,330.3 519.6,330.2 519.8,331.0 520.0,330.1 520.2,330.0 520.4,330.6 520.5,331.3 520.7,330.1 520.9,330.9 521.1,331.0 521.3,330.8 521.5,331.1 521.7,330.3 521.9,330.5 522.1,330.3 522.2,330.6 522.4,331.3 522.6,331.0 522.8,330.5 523.0,331.1 523.2,329.5 523.4,331.0 523.6,331.2 523.7,330.4 523.9,330.6 524.1,330.9 524.3,331.0 524.5,330.7 524.7,330.5 524.9,330.6 525.1,331.1 525.3,330.8 525.4,330.6 525.6,330.6 525.8,332.5 526.0,331.4 526.2,331.4 526.4,331.1 526.6,330.9 526.8,330.6 527.0,330.7 527.1,331.1 527.3,331.0 527.5,330.2 527.7,331.3 527.9,330.9 528.1,330.3 528.3,330.9 528.5,332.0 528.6,330.9 528.8,331.2 529.0,331.1 529.2,330.6 529.4,330.8 529.6,331.2 529.8,330.7 530.0,330.9 530.2,331.0 530.3,330.9 530.5,331.0 530.7,331.3 530.9,331.3 531.1,331.1 531.3,331.6 531.5,331.7 531.7,330.5 531.8,331.2 532.0,331.1 532.2,331.2 532.4,331.1 532.6,331.1 532.8,331.1 533.0,331.5 533.2,330.7 533.4,331.5 533.5,330.7 533.7,332.1 533.9,331.7 534.1,330.7 534.3,331.3 534.5,331.5 534.7,331.0 534.9,331.7 535.0,331.2 535.2,332.3 535.4,331.4 535.6,331.5 535.8,331.0"/>
<polyline stroke="#008000" stroke-width="1.9" points="170.9,278.5 171.0,279.2 171.0,278.1 171.1,280.3 171.2,276.2 171.3,277.6 171.3,272.9 171.4,271.3 171.5,270.4 171.6,264.8 171.6,265.7 171.7,263.3 171.8,261.7 171.9,259.6 171.9,254.3 172.0,250.5 172.1,251.0 172.2,241.9 172.2,237.6 172.3,230.7 172.4,224.6 172.5,219.8 172.5,210.5 172.6,194.3 172.7,185.3 172.8,175.0 172.8,156.5 172.9,141.1 173.0,125.7 173.1,107.2 173.2,86.0 173.2,63.0 173.3,46.0 173.4,32.1 173.5,21.7 173.5,17.9 173.6,26.3 173.7,32.4 173.8,47.7 173.8,66.2 173.9,84.4 174.0,103.5 174.1,123.3 174.1,143.8 174.2,158.8 174.3,169.3 174.4,188.6 174.4,201.9 174.5,208.7 174.6,217.4 174.7,225.7 174.7,235.7 174.8,237.9 174.9,246.6 175.0,252.0 175.0,255.1 175.1,257.7 175.2,259.4 175.3,262.4 175.3,266.1 175.4,266.5 175.5,270.2 175.6,270.4 175.6,276.4 175.7,278.3 175.8,275.2 175.9,280.5 175.9,279.6 176.0,280.3 176.1,282.0 176.2,282.9 176.2,280.3 176.3,288.3 176.4,282.7 176.5,280.8 176.5,285.6"/>
<polyline stroke="#008000" stroke-width="1.9" points="358.5,316.4 358.7,317.8 358.8,313.6 359.0,314.3 359.1,313.4 359.3,310.3 359.4,310.0 359.6,305.6 359.7,302.8 359.9,301.2 360.0,297.6 360.2,296.9 360.3,294.6 360.5,295.8 360.6,292.5 360.8,294.1 360.9,294.1 361.1,294.8 361.2,296.1 361.4,301.3 361.5,303.4 361.7,303.8 361.8,304.9 362.0,307.4 362.1,308.8 362.3,310.3 362.4,313.1 362.6,315.4 362.7,318.0 362.9,319.0"/>
<polyline stroke="#0000ff" stroke-width="2" points="83.9,323.8 84.1,324.4 84.3,323.6 84.5,324.3 84.7,324.8 84.8,324.9 85.0,323.5 85.2,324.1 85.4,324.3 85.6,324.3 85.8,324.4 86.0,323.5 86.2,324.0 86.3,323.4 86.5,324.0 86.7,324.8 86.9,323.7 87.1,324.1 87.3,324.0 87.5,323.4 87.7,324.0 87.9,323.5 88.0,323.9 88.2,324.1 88.4,323.7 88.6,324.0 88.8,323.4 89.0,323.5 89.2,323.8 89.4,323.6 89.5,323.6 89.7,323.9 89.9,323.4 90.1,323.8 90.3,323.5 90.5,324.0 90.7,323.7 90.9,323.5 91.1,323.9 91.2,323.8 91.4,323.8 91.6,323.4 91.8,323.9 92.0,323.5 92.2,323.1 92.4,323.5 92.6,324.1 92.7,323.5 92.9,323.2 93.1,323.6 93.3,323.1 93.5,323.3 93.7,323.3 93.9,323.6 94.1,323.6 94.3,323.5 94.4,323.4 94.6,323.2 94.8,323.3 95.0,323.5 95.2,323.4 95.4,323.2 95.6,323.9 95.8,323.6 96.0,323.6 96.1,323.4 96.3,323.4 96.5,323.4 96.7,323.6 96.9,323.1 97.1,323.2 97.3,323.9 97.5,323.3 97.6,323.7 97.8,322.7 98.0,323.4 98.2,323.4 98.4,323.2 98.6,323.3 98.8,323.2 99.0,322.7 99.2,323.1 99.3,322.9 99.5,322.8 99.7,323.5 99.9,322.6 100.1,322.9 100.3,322.8 100.5,323.5 100.7,322.9 100.8,323.0 101.0,323.3 101.2,322.3 101.4,322.9 101.6,323.2 101.8,323.0 102.0,322.8 102.2,322.7 102.4,322.9 102.5,322.6 102.7,322.5 102.9,323.5 103.1,323.2 103.3,323.4 103.5,323.0 103.7,322.5 103.9,322.8 104.0,323.4 104.2,323.1 104.4,322.6 104.6,323.2 104.8,323.0 105.0,322.9 105.2,323.6 105.4,322.7 105.6,322.8 105.7,322.8 105.9,323.3 106.1,323.2 106.3,323.2 106.5,322.9 106.7,323.0 106.9,323.0 107.1,322.4 107.2,322.6 107.4,323.3 107.6,323.3 107.8,322.5 108.0,323.2 108.2,322.6 108.4,322.6 108.6,323.4 108.8,323.3 108.9,323.2 109.1,323.5 109.3,323.6 109.5,323.4 109.7,323.0 109.9,323.4 110.1,323.4 110.3,323.5 110.4,323.8 110.6,322.8 110.8,324.2 111.0,323.6 111.2,323.2 111.4,323.9 111.6,323.2 111.8,323.0 112.0,323.7 112.1,323.4 112.3,323.9 112.5,323.3 112.7,323.5 112.9,323.5 113.1,323.1 113.3,323.4 113.5,323.1 113.7,323.4 113.8,324.0 114.0,323.5 114.2,323.5 114.4,324.2 114.6,323.2 114.8,323.7 115.0,323.6 115.2,324.0 115.3,323.7 115.5,323.7 115.7,323.9 115.9,323.8 116.1,324.5 116.3,323.4 116.5,324.2 116.7,324.6 116.9,324.2 117.0,324.2 117.2,323.7 117.4,324.2 117.6,323.8 117.8,324.3 118.0,323.2 118.2,323.8 118.4,323.3 118.5,324.4 118.7,323.8 118.9,324.4 119.1,323.9 119.3,323.8 119.5,324.6 119.7,324.5 119.9,324.5 120.1,324.7 120.2,324.4 120.4,324.5 120.6,324.7 120.8,324.2 121.0,324.1 121.2,324.7 121.4,324.5 121.6,324.3 121.7,324.4 121.9,324.6 122.1,324.1 122.3,324.1 122.5,324.2 122.7,324.5 122.9,323.8 123.1,323.9 123.3,324.7 123.4,324.6 123.6,324.2 123.8,324.9 124.0,324.5 124.2,324.6 124.4,324.9 124.6,324.8 124.8,325.3 124.9,324.9 125.1,325.4 125.3,324.0 125.5,324.3 125.7,324.4 125.9,324.8 126.1,324.6 126.3,324.5 126.5,324.6 126.6,324.6 126.8,325.3 127.0,324.9 127.2,325.2 127.4,325.4 127.6,325.5 127.8,325.0 128.0,324.8 128.1,325.6 128.3,324.6 128.5,324.7 128.7,325.3 128.9,325.4 129.1,325.3 129.3,325.0 129.5,325.4 129.7,325.7 129.8,325.2 130.0,326.1 130.2,325.4 130.4,325.0 130.6,325.3 130.8,325.2 131.0,325.3 131.2,325.3 131.3,325.5 131.5,325.8 131.7,325.7 131.9,325.6 132.1,325.2 132.3,325.1 132.5,325.5 132.7,325.9 132.9,326.0 133.0,325.8 133.2,325.3 133.4,325.7 133.6,325.8 133.8,326.1 134.0,325.6 134.2,325.8 134.4,325.9 134.6,325.9 134.7,325.4 134.9,326.0 135.1,325.5 135.3,325.6 135.5,326.0 135.7,325.8 135.9,326.1 136.1,326.4 136.2,326.2 136.4,326.5 136.6,326.0 136.8,326.2 137.0,326.0 137.2,326.0 137.4,327.3 137.6,326.2 137.8,326.9 137.9,326.3 138.1,326.6 138.3,326.4 138.5,326.0 138.7,327.0 138.9,326.4 139.1,326.5 139.3,327.1 139.4,326.3 139.6,326.5 139.8,326.7 140.0,326.8 140.2,325.6 140.4,326.8 140.6,327.2 140.8,327.0 141.0,326.8 141.1,326.8 141.3,326.8 141.5,327.1 141.7,326.6 141.9,326.9 142.1,327.2 142.3,327.1 142.5,327.0 142.6,326.6 142.8,326.7 143.0,327.0 143.2,326.9 143.4,326.9 143.6,326.3 143.8,327.2 144.0,326.9 144.2,326.8 144.3,327.3 144.5,327.0 144.7,327.0 144.9,327.2 145.1,326.9 145.3,326.8 145.5,326.8 145.7,327.2 145.8,327.1 146.0,326.5 146.2,327.6 146.4,327.2 146.6,327.0 146.8,327.2 147.0,327.1 147.2,327.3 147.4,327.1 147.5,327.0 147.7,327.4 147.9,327.3 148.1,327.4 148.3,327.6 148.5,327.5 148.7,327.8 148.9,327.3 149.0,327.0 149.2,327.0 149.4,327.2 149.6,327.9 149.8,327.1 150.0,327.8 150.2,327.6 150.4,327.1 150.6,328.0 150.7,327.4 150.9,327.6 151.1,327.8 151.3,328.0 151.5,327.6 151.7,327.9 151.9,327.5 152.1,327.4 152.2,328.2 152.4,328.0 152.6,328.0 152.8,328.2 153.0,328.2 153.2,327.9 153.4,328.0 153.6,328.4 153.8,328.1 153.9,327.8 154.1,328.4 154.3,328.3 154.5,327.6 154.7,327.7 154.9,328.6 155.1,328.5 155.3,328.0 155.5,328.5 155.6,328.2 155.8,328.3 156.0,328.0 156.2,329.0 156.4,328.9 156.6,328.6 156.8,328.0 157.0,328.3 157.1,328.8 157.3,328.2 157.5,328.1 157.7,328.4 157.9,328.5 158.1,328.3 158.3,328.0 158.5,328.4 158.7,328.3 158.8,328.5 159.0,328.6 159.2,328.8 159.4,328.4 159.6,328.6 159.8,328.6 160.0,328.3 160.2,328.4 160.3,328.3 160.5,329.0 160.7,328.4 160.9,328.8 161.1,328.8 161.3,328.9 161.5,328.3 161.7,328.4 161.9,328.8 162.0,328.9 162.2,328.6 162.4,328.8 162.6,328.1 162.8,329.0 163.0,329.2 163.2,328.7 163.4,328.6 163.5,328.6 163.7,328.4 163.9,328.0 164.1,328.7 164.3,328.8 164.5,329.1 164.7,328.5 164.9,328.4 165.1,328.7 165.2,328.3 165.4,328.6 165.6,328.2 165.8,328.5 166.0,328.9 166.2,328.8 166.4,329.0 166.6,329.1 166.7,328.5 166.9,328.3 167.1,327.9 167.3,328.5 167.5,328.5 167.7,328.8 167.9,328.1 168.1,328.3 168.3,328.5 168.4,328.1 168.6,328.1 168.8,328.8 169.0,327.9 169.1,328.1 169.2,328.2 169.2,328.2 169.3,327.5 169.4,327.5 169.5,327.4 169.5,328.3 169.6,328.1 169.7,327.5 169.8,328.1 169.8,327.9 169.9,328.2 170.0,327.0 170.1,327.2 170.1,327.3 170.2,327.3 170.3,327.4 170.4,327.3 170.4,326.9 170.5,327.2 170.6,326.5 170.7,326.9 170.7,326.8 170.8,326.0 170.9,326.2 171.0,325.8 171.0,325.9 171.1,326.2 171.2,324.9 171.3,325.2 171.3,323.8 171.4,324.1 171.5,323.5 171.6,321.8 171.6,320.5 171.7,319.1 171.8,317.8 171.9,314.6 171.9,312.9 172.0,309.1 172.1,305.4 172.2,300.7 172.2,294.9 172.3,290.1 172.4,283.2 172.5,276.6 172.5,271.8 172.6,264.8 172.7,258.0 172.8,252.8 172.8,247.7 172.9,247.0 173.0,243.7 173.1,244.6 173.2,248.2 173.2,253.6 173.3,257.8 173.4,264.4 173.5,270.1 173.5,277.3 173.6,283.2 173.7,290.1 173.8,294.7 173.8,301.9 173.9,305.7 174.0,308.9 174.1,313.1 174.1,314.9 174.2,318.0 174.3,319.4 174.4,321.3 174.4,322.3 174.5,323.1 174.6,323.9 174.7,324.7 174.7,324.3 174.8,325.5 174.9,326.1 175.0,325.8 175.0,326.1 175.1,326.2 175.2,326.2 175.3,327.3 175.3,326.8 175.4,326.9 175.5,327.4 175.6,327.5 175.6,328.6 175.7,327.9 175.8,327.3 175.9,328.5 175.9,328.2 176.0,328.1 176.1,328.0 176.2,327.8 176.2,328.9 176.3,328.4 176.4,328.2 176.5,328.9 176.5,328.6 176.6,328.1 176.7,328.3 176.8,328.6 176.8,329.6 176.9,328.9 177.0,328.8 177.1,329.0 177.1,329.0 177.2,328.1 177.5,329.2 177.7,329.5 177.9,329.2 178.0,329.4 178.2,329.5 178.4,329.5 178.6,329.3 178.8,329.5 179.0,329.9 179.2,329.7 179.4,329.6 179.6,329.9 179.7,329.4 179.9,329.6 180.1,330.1 180.3,329.8 180.5,329.3 180.7,329.5 180.9,330.0 181.1,329.7 181.2,330.2 181.4,330.4 181.6,329.9 181.8,330.0 182.0,329.9 182.2,330.1 182.4,330.0 182.6,330.3 182.8,330.0 182.9,329.9 183.1,330.2 183.3,330.0 183.5,330.7 183.7,330.4 183.9,329.8 184.1,329.8 184.3,330.2 184.4,330.3 184.6,330.6 184.8,330.2 185.0,330.1 185.2,330.7 185.4,330.2 185.6,330.2 185.8,330.3 186.0,330.7 186.1,330.3 186.3,330.8 186.5,330.0 186.7,330.4 186.9,330.8 187.1,330.1 187.3,330.2 187.5,330.7 187.6,329.9 187.8,330.8 188.0,330.4 188.2,330.2 188.4,331.2 188.6,330.3 188.8,330.6 189.0,330.6 189.2,330.9 189.3,330.5 189.5,330.9 189.7,330.9 189.9,330.8 190.1,331.0 190.3,330.3 190.5,331.1 190.7,331.0 190.8,330.9 191.0,330.8 191.2,330.6 191.4,330.7 191.6,331.0 191.8,331.0 192.0,331.0 192.2,330.8 192.4,330.8 192.5,331.2 192.7,331.6 192.9,330.5 193.1,330.9 193.3,331.1 193.5,331.1 193.7,331.4 193.9,331.5 194.1,331.4 194.2,331.4 194.4,331.5 194.6,331.7 194.8,331.5 195.0,331.3 195.2,331.6 195.4,331.5 195.6,332.0 195.7,331.6 195.9,331.6 196.1,331.9 196.3,332.1 196.5,331.5 196.7,331.9 196.9,331.6 197.1,331.8 197.3,331.6 197.4,331.9 197.6,332.2 197.8,331.9 198.0,332.0 198.2,331.7 198.4,332.0 198.6,332.1 198.8,331.8 198.9,331.7 199.1,331.8 199.3,331.8 199.5,332.0 199.7,331.9 199.9,331.9 200.1,332.1 200.3,332.2 200.5,332.2 200.6,331.6 200.8,332.2 201.0,332.3 201.2,332.4 201.4,332.3 201.6,332.3 201.8,332.6 202.0,332.8 202.1,332.3 202.3,332.8 202.5,332.3 202.7,332.4 202.9,332.1 203.1,332.0 203.3,332.4 203.5,332.6 203.7,332.8 203.8,332.7 204.0,332.5 204.2,333.0 204.4,332.5 204.6,332.5 204.8,332.3 205.0,332.5 205.2,332.3 205.3,332.5 205.5,332.4 205.7,332.7 205.9,332.1 206.1,331.7 206.3,332.1 206.5,332.0 206.7,332.3 206.9,331.8 207.0,332.4 207.2,332.1 207.4,332.3 207.6,332.7 207.8,332.3 208.0,332.6 208.2,332.7 208.4,332.7 208.5,332.9 208.7,333.0 208.9,332.9 209.1,333.2 209.3,333.1 209.5,333.3 209.7,333.5 209.9,333.4 210.1,333.4 210.2,333.3 210.4,333.0 210.6,333.7 210.8,333.4 211.0,333.9 211.2,333.7 211.4,333.6 211.6,334.0 211.8,333.9 211.9,333.5 212.1,333.6 212.3,333.6 212.5,333.8 212.7,333.2 212.9,333.7 213.1,333.9 213.3,333.4 213.4,333.6 213.6,333.9 213.8,333.6 214.0,333.8 214.2,333.7 214.4,333.8 214.6,334.2 214.8,333.7 215.0,333.9 215.1,334.2 215.3,334.2 215.5,333.8 215.7,334.2 215.9,334.1 216.1,334.0 216.3,334.1 216.5,334.5 216.6,334.1 216.8,334.0 217.0,334.1 217.2,333.9 217.4,334.2 217.6,334.1 217.8,334.0 218.0,334.4 218.2,334.0 218.3,334.0 218.5,334.2 218.7,334.0 218.9,334.3 219.1,334.7 219.3,334.2 219.5,334.4 219.7,334.4 219.8,334.5 220.0,334.3 220.2,334.5 220.4,334.7 220.6,334.5 220.8,334.5 221.0,334.8 221.2,334.8 221.4,334.8 221.5,334.8 221.7,334.7 221.9,334.5 222.1,334.4 222.3,334.5 222.5,334.6 222.7,334.6 222.9,334.6 223.0,335.0 223.2,334.8 223.4,334.8 223.6,335.0 223.8,335.0 224.0,335.1 224.2,335.0 224.4,335.3 224.6,334.9 224.7,335.1 224.9,335.1 225.1,335.0 225.3,335.0 225.5,335.3 225.7,335.2 225.9,335.5 226.1,335.6 226.2,335.6 226.4,334.9 226.6,335.6 226.8,335.2 227.0,335.0 227.2,335.4 227.4,335.0 227.6,335.0 227.8,335.2 227.9,334.9 228.1,335.3 228.3,335.6 228.5,335.3 228.7,335.6 228.9,335.7 229.1,335.8 229.3,335.1 229.4,335.6 229.6,335.6 229.8,335.7 230.0,335.6 230.2,335.6 230.4,335.7 230.6,335.8 230.8,335.9 231.0,335.8 231.1,335.6 231.3,335.2 231.5,335.4 231.7,335.3 231.9,335.5 232.1,335.7 232.3,335.9 232.5,335.6 232.7,336.1 232.8,335.7 233.0,335.3 233.2,335.6 233.4,335.4 233.6,335.7 233.8,335.9 234.0,335.8 234.2,335.8 234.3,335.4 234.5,335.3 234.7,335.8 234.9,335.8 235.1,335.7 235.3,335.8 235.5,335.9 235.7,335.7 235.9,335.6 236.0,335.6 236.2,336.0 236.4,335.7 236.6,336.1 236.8,335.6 237.0,335.9 237.2,335.8 237.4,335.8 237.5,335.9 237.7,336.0 237.9,336.1 238.1,335.4 238.3,335.7 238.5,335.7 238.7,335.4 238.9,335.8 239.1,335.7 239.2,335.8 239.4,335.5 239.6,335.7 239.8,335.7 240.0,335.8 240.2,335.7 240.4,335.6 240.6,336.2 240.7,335.8 240.9,335.9 241.1,335.9 241.3,336.2 241.5,335.7 241.7,336.0 241.9,335.9 242.1,335.9 242.3,336.2 242.4,335.9 242.6,336.2 242.8,336.0 243.0,335.9 243.2,335.9 243.4,335.8 243.6,335.9 243.8,335.5 243.9,335.8 244.1,336.1 244.3,336.0 244.5,336.0 244.7,335.9 244.9,336.0 245.1,336.1 245.3,335.6 245.5,335.9 245.6,336.0 245.8,336.0 246.0,336.0 246.2,335.6 246.4,335.8 246.6,335.7 246.8,336.5 247.0,335.9 247.1,335.7 247.3,335.6 247.5,335.9 247.7,336.3 247.9,335.8 248.1,336.1 248.3,336.3 248.5,336.1 248.7,335.8 248.8,335.7 249.0,335.8 249.2,336.2 249.4,335.5 249.6,336.2 249.8,336.0 250.0,336.3 250.2,335.7 250.3,335.9 250.5,335.8 250.7,336.0 250.9,336.0 251.1,336.0 251.3,336.4 251.5,335.8 251.7,335.8 251.9,336.1 252.0,336.0 252.2,336.0 252.4,335.7 252.6,336.0 252.8,336.0 253.0,336.1 253.2,336.3 253.4,336.2 253.6,336.0 253.7,336.1 253.9,336.1 254.1,335.9 254.3,336.0 254.5,336.0 254.7,336.0 254.9,336.1 255.1,336.1 255.2,336.0 255.4,336.4 255.6,335.9 255.8,336.4 256.0,336.0 256.2,336.1 256.4,335.9 256.6,336.1 256.8,336.3 256.9,335.9 257.1,336.1 257.3,336.1 257.5,336.1 257.7,336.0 257.9,336.0 258.1,336.1 258.3,336.5 258.4,336.2 258.6,336.2 258.8,335.8 259.0,336.1 259.2,336.2 259.4,336.0 259.6,336.2 259.8,336.2 260.0,336.2 260.1,336.5 260.3,336.0 260.5,336.1 260.7,336.3 260.9,336.4 261.1,336.2 261.3,336.0 261.5,336.4 261.6,336.4 261.8,336.2 262.0,336.5 262.2,336.7 262.4,336.3 262.6,336.4 262.8,336.3 263.0,336.4 263.2,336.2 263.3,336.3 263.5,336.4 263.7,336.4 263.9,336.2 264.1,336.1 264.3,336.1 264.5,336.2 264.7,336.9 264.8,336.5 265.0,336.4 265.2,336.3 265.4,336.6 265.6,336.1 265.8,336.3 266.0,336.4 266.2,336.3 266.4,336.4 266.5,336.5 266.7,336.3 266.9,336.4 267.1,336.6 267.3,336.5 267.5,336.4 267.7,336.6 267.9,336.1 268.0,336.6 268.2,336.1 268.4,336.2 268.6,336.6 268.8,336.4 269.0,336.2 269.2,336.4 269.4,336.6 269.6,336.4 269.7,336.0 269.9,336.7 270.1,336.3 270.3,336.4 270.5,336.5 270.7,336.5 270.9,336.5 271.1,336.3 271.3,336.3 271.4,336.6 271.6,336.2 271.8,336.7 272.0,336.3 272.2,336.4 272.4,336.2 272.6,336.4 272.8,336.3 272.9,336.5 273.1,336.3 273.3,336.4 273.5,336.1 273.7,336.6 273.9,336.3 274.1,336.4 274.3,336.5 274.5,336.6 274.6,336.4 274.8,336.8 275.0,336.8 275.2,336.4 275.4,336.8 275.6,336.3 275.8,336.6 276.0,336.5 276.1,336.5 276.3,336.5 276.5,336.6 276.7,336.6 276.9,336.6 277.1,336.4 277.3,336.4 277.5,336.3 277.7,336.5 277.8,336.6 278.0,336.9 278.2,336.5 278.4,336.4 278.6,336.7 278.8,336.5 279.0,336.4 279.2,336.6 279.3,336.4 279.5,336.6 279.7,337.0 279.9,336.7 280.1,336.7 280.3,336.6 280.5,336.8 280.7,336.7 280.9,336.8 281.0,336.7 281.2,336.7 281.4,336.5 281.6,336.5 281.8,336.7 282.0,336.7 282.2,336.7 282.4,336.7 282.5,336.4 282.7,337.2 282.9,336.8 283.1,336.7 283.3,336.5 283.5,336.9 283.7,336.7 283.9,336.6 284.1,336.8 284.2,337.1 284.4,336.8 284.6,337.0 284.8,336.7 285.0,336.9 285.2,336.5 285.4,336.8 285.6,336.9 285.7,336.9 285.9,337.0 286.1,336.7 286.3,336.5 286.5,336.9 286.7,336.7 286.9,337.0 287.1,336.8 287.3,336.4 287.4,337.1 287.6,336.6 287.8,336.6 288.0,337.2 288.2,337.1 288.4,337.0 288.6,336.7 288.8,337.0 288.9,336.9 289.1,336.8 289.3,336.9 289.5,336.9 289.7,337.0 289.9,336.7 290.1,337.1 290.3,336.6 290.5,337.0 290.6,337.1 290.8,336.8 291.0,336.9 291.2,337.3 291.4,336.9 291.6,337.2 291.8,337.1 292.0,336.8 292.2,337.1 292.3,336.9 292.5,337.1 292.7,336.7 292.9,337.0 293.1,337.2 293.3,337.2 293.5,337.2 293.7,337.0 293.8,337.0 294.0,336.9 294.2,337.0 294.4,337.0 294.6,337.0 294.8,337.1 295.0,337.0 295.2,337.0 295.4,337.0 295.5,337.2 295.7,337.4 295.9,337.3 296.1,337.1 296.3,337.6 296.5,337.2 296.7,337.1 296.9,337.2 297.0,337.3 297.2,336.9 297.4,336.9 297.6,337.2 297.8,336.9 298.0,337.0 298.2,337.4 298.4,336.7 298.6,337.4 298.7,337.3 298.9,337.4 299.1,337.2 299.3,337.5 299.5,337.2 299.7,337.1 299.9,337.2 300.1,337.3 300.2,337.0 300.4,337.4 300.6,337.1 300.8,337.3 301.0,337.2 301.2,337.3 301.4,337.3 301.6,337.3 301.8,337.4 301.9,337.4 302.1,337.2 302.3,337.3 302.5,337.5 302.7,337.5 302.9,337.5 303.1,337.4 303.3,337.3 303.4,337.4 303.6,337.5 303.8,337.4 304.0,337.6 304.2,337.9 304.4,337.4 304.6,337.7 304.8,337.6 305.0,337.6 305.1,337.3 305.3,337.6 305.5,337.4 305.7,337.5 305.9,337.7 306.1,337.7 306.3,337.4 306.5,337.4 306.6,337.3 306.8,337.2 307.0,337.4 307.2,337.4 307.4,337.5 307.6,337.5 307.8,337.6 308.0,337.7 308.2,337.2 308.3,337.8 308.5,337.5 308.7,337.5 308.9,337.5 309.1,337.7 309.3,337.6 309.5,337.6 309.7,337.8 309.9,337.6 310.0,337.7 310.2,337.7 310.4,337.5 310.6,337.8 310.8,337.5 311.0,337.7 311.2,337.5 311.4,337.6 311.5,337.6 311.7,337.8 311.9,337.7 312.1,337.7 312.3,337.6 312.5,337.5 312.7,337.4 312.9,337.7 313.1,337.6 313.2,337.9 313.4,338.0 313.6,337.8 313.8,337.7 314.0,337.9 314.2,337.9 314.4,337.5 314.6,337.7 314.7,337.9 314.9,337.2 315.1,337.6 315.3,337.7 315.5,337.5 315.7,337.7 315.9,337.4 316.1,337.9 316.3,337.8 316.4,337.6 316.6,337.8 316.8,337.4 317.0,337.9 317.2,337.8 317.4,337.6 317.6,337.5 317.8,337.5 317.9,337.6 318.1,337.3 318.3,337.7 318.5,337.6 318.7,337.5 318.9,337.7 319.1,337.7 319.3,337.7 319.5,337.7 319.6,337.8 319.8,337.7 320.0,337.9 320.2,337.6 320.4,337.9 320.6,337.3 320.8,337.4 321.0,337.5 321.1,337.7 321.3,337.7 321.5,337.4 321.7,337.6 321.9,337.6 322.1,337.8 322.3,337.5 322.5,337.8 322.7,337.6 322.8,337.9 323.0,337.8 323.2,337.6 323.4,337.7 323.6,337.7 323.8,337.5 324.0,337.7 324.2,337.5 324.3,338.1 324.5,337.6 324.7,337.6 324.9,337.9 325.1,337.9 325.3,337.5 325.5,337.9 325.7,337.8 325.9,337.6 326.0,337.7 326.2,337.6 326.4,337.8 326.6,337.6 326.8,337.5 327.0,337.6 327.2,338.0 327.4,337.6 327.5,337.7 327.7,337.8 327.9,337.5 328.1,338.0 328.3,337.4 328.5,337.8 328.7,337.4 328.9,337.7 329.1,337.9 329.2,337.7 329.4,337.6 329.6,337.6 329.8,337.5 330.0,337.8 330.2,337.6 330.4,337.6 330.6,337.7 330.8,337.9 330.9,337.9 331.1,337.6 331.3,337.6 331.5,337.8 331.7,337.9 331.9,337.5 332.1,338.0 332.3,337.7 332.4,337.8 332.6,338.0 332.8,337.7 333.0,337.7 333.2,337.5 333.4,337.3 333.6,337.7 333.8,337.5 334.0,337.5 334.1,337.8 334.3,337.9 334.5,337.5 334.7,337.8 334.9,337.7 335.1,337.8 335.3,337.7 335.5,337.8 335.6,337.6 335.8,337.5 336.0,337.8 336.2,337.9 336.4,337.7 336.6,338.0 336.8,337.8 337.0,337.5 337.2,337.3 337.3,337.7 337.5,337.9 337.7,337.6 337.9,338.1 338.1,337.8 338.3,337.5 338.5,337.6 338.7,338.0 338.8,338.0 339.0,337.6 339.2,337.7 339.4,337.8 339.6,337.7 339.8,337.8 340.0,338.1 340.2,337.6 340.4,337.8 340.5,337.9 340.7,338.0 340.9,337.7 341.1,337.9 341.3,337.6 341.5,337.8 341.7,337.6 341.9,337.8 342.0,337.8 342.2,338.1 342.4,337.9 342.6,337.6 342.8,337.2 343.0,337.9 343.2,337.9 343.4,337.7 343.6,337.7 343.7,337.9 343.9,337.7 344.1,338.0 344.3,337.8 344.5,337.6 344.7,337.5 344.9,337.8 345.1,337.8 345.2,337.7 345.4,337.6 345.6,337.7 345.8,337.9 346.0,337.7 346.2,337.6 346.4,337.9 346.6,338.0 346.8,337.7 346.9,337.7 347.1,337.6 347.3,337.7 347.5,337.8 347.7,337.8 347.9,337.9 348.1,337.9 348.3,337.8 348.4,337.8 348.6,337.5 348.8,337.9 349.0,337.7 349.2,337.8 349.4,337.5 349.6,337.7 349.8,337.8 350.0,337.6 350.1,337.7 350.3,337.8 350.5,337.5 350.7,337.6 350.9,337.4 351.1,337.5 351.3,337.6 351.5,337.7 351.7,337.9 351.8,337.6 352.0,337.7 352.2,337.6 352.4,337.7 352.6,337.8 352.8,337.8 353.0,337.5 353.2,337.4 353.3,337.7 353.5,337.6 353.7,337.4 353.9,337.8 354.1,337.7 354.3,337.8 354.5,337.4 354.7,337.5 354.9,337.6 355.0,337.8 355.2,337.5 355.4,337.3 355.6,337.5 355.8,337.5 356.0,337.3 356.2,337.6 356.4,337.3 356.5,337.2 356.7,337.3 356.8,337.3 357.0,337.0 357.1,337.0 357.3,336.9 357.5,336.7 357.6,336.6 357.8,336.6 357.9,336.4 358.1,336.0 358.2,335.6 358.4,335.2 358.5,335.3 358.7,334.5 358.8,334.1 359.0,333.7 359.1,333.0 359.3,332.4 359.4,331.5 359.6,331.5 359.7,330.4 359.9,330.0 360.0,329.4 360.2,328.5 360.3,328.1 360.5,328.3 360.6,327.9 360.8,327.8 360.9,328.5 361.1,328.1 361.2,328.8 361.4,329.3 361.5,329.9 361.7,330.1 361.8,331.3 362.0,332.0 362.1,332.2 362.3,333.3 362.4,333.9 362.6,334.6 362.7,334.5 362.9,335.1 363.0,335.4 363.2,335.8 363.3,336.1 363.5,336.5 363.6,336.7 363.8,336.6 363.9,336.8 364.3,336.8 364.5,337.3 364.6,337.4 364.8,337.5 365.0,337.2 365.2,337.7 365.4,337.4 365.6,337.3 365.8,337.6 366.0,337.5 366.1,338.0 366.3,337.7 366.5,337.9 366.7,337.7 366.9,337.7 367.1,337.8 367.3,337.6 367.5,337.7 367.7,337.8 367.8,337.9 368.0,338.0 368.2,337.8 368.4,337.5 368.6,337.9 368.8,337.8 369.0,337.9 369.2,337.7 369.4,337.8 369.5,337.9 369.7,338.2 369.9,338.0 370.1,337.7 370.3,337.9 370.5,337.8 370.7,338.0 370.9,338.2 371.0,337.8 371.2,337.9 371.4,338.0 371.6,338.0 371.8,337.9 372.0,338.0 372.2,337.9 372.4,338.0 372.6,338.3 372.7,338.0 372.9,338.1 373.1,338.1 373.3,337.9 373.5,338.1 373.7,337.9 373.9,337.8 374.1,338.0 374.2,338.2 374.4,338.1 374.6,337.8 374.8,338.0 375.0,338.1 375.2,338.0 375.4,337.9 375.6,338.0 375.8,337.9 375.9,338.1 376.1,338.1 376.3,338.1 376.5,338.0 376.7,338.3 376.9,338.1 377.1,338.2 377.3,337.8 377.4,337.8 377.6,337.8 377.8,337.9 378.0,338.1 378.2,337.9 378.4,338.1 378.6,337.9 378.8,338.2 379.0,338.1 379.1,338.0 379.3,337.8 379.5,338.0 379.7,337.7 379.9,337.6 380.1,338.2 380.3,338.1 380.5,338.2 380.6,338.1 380.8,338.1 381.0,338.1 381.2,337.9 381.4,337.9 381.6,338.0 381.8,338.1 382.0,338.0 382.2,338.0 382.3,338.0 382.5,338.1 382.7,338.0 382.9,338.3 383.1,337.9 383.3,337.8 383.5,338.0 383.7,338.3 383.8,337.9 384.0,338.1 384.2,338.5 384.4,338.1 384.6,338.0 384.8,338.0 385.0,337.9 385.2,338.0 385.4,338.1 385.5,338.4 385.7,338.3 385.9,338.1 386.1,338.0 386.3,338.2 386.5,338.2 386.7,338.0 386.9,338.4 387.0,338.4 387.2,338.1 387.4,338.1 387.6,338.2 387.8,338.5 388.0,338.1 388.2,338.3 388.4,338.0 388.6,338.1 388.7,338.1 388.9,338.0 389.1,338.2 389.3,338.0 389.5,337.9 389.7,338.0 389.9,337.9 390.1,338.2 390.3,338.0 390.4,338.1 390.6,338.3 390.8,338.1 391.0,338.2 391.2,338.2 391.4,338.1 391.6,337.9 391.8,338.2 391.9,338.1 392.1,338.3 392.3,338.1 392.5,337.9 392.7,338.0 392.9,338.0 393.1,338.2 393.3,338.3 393.5,338.1 393.6,338.3 393.8,338.3 394.0,338.0 394.2,338.3 394.4,337.8 394.6,338.3 394.8,338.1 395.0,338.3 395.1,338.1 395.3,338.3 395.5,338.1 395.7,338.2 395.9,338.2 396.1,338.1 396.3,337.9 396.5,338.2 396.7,338.0 396.8,338.1 397.0,338.1 397.2,337.8 397.4,338.5 397.6,338.2 397.8,338.4 398.0,338.2 398.2,338.2 398.3,337.6 398.5,338.1 398.7,337.9 398.9,337.9 399.1,338.2 399.3,338.1 399.5,337.9 399.7,338.1 399.9,338.1 400.0,338.1 400.2,338.4 400.4,338.3 400.6,338.1 400.8,338.1 401.0,338.3 401.2,338.2 401.4,338.2 401.5,338.2 401.7,338.1 401.9,338.1 402.1,338.1 402.3,338.4 402.5,338.3 402.7,338.1 402.9,338.4 403.1,338.1 403.2,338.3 403.4,338.3 403.6,338.1 403.8,338.3 404.0,338.3 404.2,338.3 404.4,338.2 404.6,337.7 404.7,338.5 404.9,338.2 405.1,338.2 405.3,338.0 405.5,338.2 405.7,338.6 405.9,338.0 406.1,338.3 406.3,338.2 406.4,338.4 406.6,338.4 406.8,338.3 407.0,338.1 407.2,338.1 407.4,338.3 407.6,338.1 407.8,338.2 407.9,338.2 408.1,338.2 408.3,338.1 408.5,338.3 408.7,338.2 408.9,338.2 409.1,338.2 409.3,338.3 409.5,337.9 409.6,338.3 409.8,338.1 410.0,338.2 410.2,338.0 410.4,338.5 410.6,337.9 410.8,338.2 411.0,338.4 411.2,338.2 411.3,337.9 411.5,338.1 411.7,338.4 411.9,338.3 412.1,338.0 412.3,338.4 412.5,338.2 412.7,338.3 412.8,337.9 413.0,338.3 413.2,338.0 413.4,338.3 413.6,338.3 413.8,338.1 414.0,338.1 414.2,338.5 414.4,338.1 414.5,338.1 414.7,338.3 414.9,338.2 415.1,338.2 415.3,338.3 415.5,338.3 415.7,338.3 415.9,338.3 416.0,338.4 416.2,338.3 416.4,338.5 416.6,338.2 416.8,338.3 417.0,338.4 417.2,338.1 417.4,338.0 417.6,338.1 417.7,338.5 417.9,338.1 418.1,338.2 418.3,338.3 418.5,338.4 418.7,338.3 418.9,338.0 419.1,338.2 419.2,338.3 419.4,338.4 419.6,338.3 419.8,338.2 420.0,338.0 420.2,338.4 420.4,338.3 420.6,338.3 420.8,338.4 420.9,338.2 421.1,338.2 421.3,338.5 421.5,338.4 421.7,338.1 421.9,338.2 422.1,338.2 422.3,338.4 422.4,338.3 422.6,338.2 422.8,338.4 423.0,338.5 423.2,338.3 423.4,338.2 423.6,338.4 423.8,338.1 424.0,338.2 424.1,338.4 424.3,338.3 424.5,338.3 424.7,338.2 424.9,338.2 425.1,338.5 425.3,338.5 425.5,338.1 425.6,338.3 425.8,338.2 426.0,338.2 426.2,338.1 426.4,338.5 426.6,338.1 426.8,338.4 427.0,338.2 427.2,338.1 427.3,338.5 427.5,338.2 427.7,338.3 427.9,338.3 428.1,338.3 428.3,338.4 428.5,338.4 428.7,338.2 428.9,338.1 429.0,338.4 429.2,338.5 429.4,337.9 429.6,338.1 429.8,338.2 430.0,338.4 430.2,338.3 430.4,338.2 430.5,338.3 430.7,337.9 430.9,338.1 431.1,338.0 431.3,338.2 431.5,338.1 431.7,338.1 431.9,337.8 432.1,337.9 432.2,337.8 432.4,337.6 432.6,337.5 432.8,337.2 433.0,337.4 433.2,337.5 433.4,337.3 433.6,336.9 433.7,337.2 433.9,337.1 434.1,337.2 434.3,337.1 434.5,337.1 434.7,337.3 434.9,337.3 435.1,337.2 435.3,337.2 435.4,337.4 435.6,337.5 435.8,337.7 436.0,337.8 436.2,337.7 436.4,338.1 436.6,338.0 436.8,338.3 436.9,338.1 437.1,338.2 437.3,338.4 437.5,338.1 437.7,338.3 437.9,338.3 438.1,338.3 438.3,338.4 438.5,338.1 438.6,338.4 438.8,338.3 439.0,338.5 439.2,338.4 439.4,338.4 439.6,338.4 439.8,338.5 440.0,338.4 440.1,338.1 440.3,338.4 440.5,338.4 440.7,338.5 440.9,338.0 441.1,338.2 441.3,338.3 441.5,338.3 441.7,338.5 441.8,338.4 442.0,338.4 442.2,338.4 442.4,338.6 442.6,338.6 442.8,338.4 443.0,338.4 443.2,338.8 443.3,338.5 443.5,338.3 443.7,338.6 443.9,338.5 444.1,338.7 444.3,338.4 444.5,338.7 444.7,338.7 444.9,338.6 445.0,338.2 445.2,338.6 445.4,338.7 445.6,338.5 445.8,338.5 446.0,338.3 446.2,338.7 446.4,338.8 446.5,338.6 446.7,338.5 446.9,338.5 447.1,338.4 447.3,338.8 447.5,338.7 447.7,338.6 447.9,338.5 448.1,338.5 448.2,338.7 448.4,338.8 448.6,338.5 448.8,338.5 449.0,338.3 449.2,338.7 449.4,338.4 449.6,338.8 449.8,338.7 449.9,338.8 450.1,338.7 450.3,338.8 450.5,338.8 450.7,338.7 450.9,338.8 451.1,338.6 451.3,338.7 451.4,338.7 451.6,338.5 451.8,338.7 452.0,338.7 452.2,338.7 452.4,338.7 452.6,338.7 452.8,338.9 453.0,338.6 453.1,338.5 453.3,338.6 453.5,338.8 453.7,339.0 453.9,338.8 454.1,338.8 454.3,338.7 454.5,338.8 454.6,338.8 454.8,338.6 455.0,338.9 455.2,338.7 455.4,338.7 455.6,339.0 455.8,338.8 456.0,338.9 456.2,339.0 456.3,339.1 456.5,339.1 456.7,338.8 456.9,338.9 457.1,338.8 457.3,339.0 457.5,338.9 457.7,338.9 457.8,339.1 458.0,339.1 458.2,338.8 458.4,338.9 458.6,339.0 458.8,338.9 459.0,338.8 459.2,338.7 459.4,339.1 459.5,338.9 459.7,338.7 459.9,338.9 460.1,338.8 460.3,339.3 460.5,338.8 460.7,339.0 460.9,339.2 461.0,338.9 461.2,338.8 461.4,338.8 461.6,338.8 461.8,339.0 462.0,339.1 462.2,339.1 462.4,339.0 462.6,339.0 462.7,339.1 462.9,339.0 463.1,338.9 463.3,339.0 463.5,338.7 463.7,338.8 463.9,339.2 464.1,339.1 464.2,339.3 464.4,339.2 464.6,339.0 464.8,339.2 465.0,339.2 465.2,339.1 465.4,339.0 465.6,339.2 465.8,339.2 465.9,339.0 466.1,339.1 466.3,339.1 466.5,339.0 466.7,339.3 466.9,339.1 467.1,339.2 467.3,339.0 467.5,339.1 467.6,339.3 467.8,339.0 468.0,339.3 468.2,339.0 468.4,339.2 468.6,339.3 468.8,339.4 469.0,339.3 469.1,339.2 469.3,339.3 469.5,339.2 469.7,339.4 469.9,339.2 470.1,339.3 470.3,339.5 470.5,339.2 470.7,339.4 470.8,339.6 471.0,339.4 471.2,339.3 471.4,339.2 471.6,339.4 471.8,339.1 472.0,339.1 472.2,339.2 472.3,339.1 472.5,339.3 472.7,339.4 472.9,339.3 473.1,339.2 473.3,339.3 473.5,339.4 473.7,339.6 473.9,339.3 474.0,339.3 474.2,339.5 474.4,339.4 474.6,339.3 474.8,339.4 475.0,339.3 475.2,339.3 475.4,339.6 475.5,339.5 475.7,339.4 475.9,339.3 476.1,339.3 476.3,339.7 476.5,339.5 476.7,339.4 476.9,339.3 477.1,339.2 477.2,339.6 477.4,339.5 477.6,339.6 477.8,339.4 478.0,339.7 478.2,339.3 478.4,339.4 478.6,339.4 478.7,339.8 478.9,339.6 479.1,339.4 479.3,339.7 479.5,339.5 479.7,339.5 479.9,339.4 480.1,339.5 480.3,339.5 480.4,339.6 480.6,339.5 480.8,339.6 481.0,339.4 481.2,339.6 481.4,339.4 481.6,339.8 481.8,339.4 481.9,339.6 482.1,339.4 482.3,339.6 482.5,339.5 482.7,339.4 482.9,339.6 483.1,339.6 483.3,339.6 483.5,339.6 483.6,339.8 483.8,339.6 484.0,339.6 484.2,339.7 484.4,339.6 484.6,339.8 484.8,339.4 485.0,339.6 485.1,339.4 485.3,339.7 485.5,339.8 485.7,339.6 485.9,339.8 486.1,339.6 486.3,339.7 486.5,339.7 486.7,339.6 486.8,339.6 487.0,339.4 487.2,339.6 487.4,339.8 487.6,339.5 487.8,339.8 488.0,339.6 488.2,339.8 488.4,339.8 488.5,339.5 488.7,339.7 488.9,339.8 489.1,339.8 489.3,339.7 489.5,339.5 489.7,339.8 489.9,339.8 490.0,339.6 490.2,339.9 490.4,339.7 490.6,339.6 490.8,339.7 491.0,339.8 491.2,339.8 491.4,339.8 491.6,339.8 491.7,339.7 491.9,339.6 492.1,339.6 492.3,339.8 492.5,339.8 492.7,339.7 492.9,340.0 493.1,339.8 493.2,339.8 493.4,339.9 493.6,339.9 493.8,339.7 494.0,340.0 494.2,339.9 494.4,339.9 494.6,339.8 494.8,339.9 494.9,339.6 495.1,339.8 495.3,339.8 495.5,339.8 495.7,339.9 495.9,339.9 496.1,339.7 496.3,339.8 496.4,339.8 496.6,339.7 496.8,339.9 497.0,339.7 497.2,339.8 497.4,339.9 497.6,339.7 497.8,340.0 498.0,339.8 498.1,339.9 498.3,339.8 498.5,339.7 498.7,339.8 498.9,339.9 499.1,339.9 499.3,339.9 499.5,340.0 499.6,340.0 499.8,339.9 500.0,339.8 500.2,340.1 500.4,339.9 500.6,339.8 500.8,339.9 501.0,340.0 501.2,339.8 501.3,340.0 501.5,339.8 501.7,339.7 501.9,340.1 502.1,339.9 502.3,339.9 502.5,339.9 502.7,340.0 502.8,340.0 503.0,340.1 503.2,339.9 503.4,339.9 503.6,340.0 503.8,340.0 504.0,340.0 504.2,339.9 504.4,339.9 504.5,340.0 504.7,339.9 504.9,340.1 505.1,340.3 505.3,339.9 505.5,339.8 505.7,340.1 505.9,340.1 506.0,339.9 506.2,339.9 506.4,339.9 506.6,339.8 506.8,340.0 507.0,339.9 507.2,339.9 507.4,340.0 507.6,339.9 507.7,339.9 507.9,339.9 508.1,340.1 508.3,339.9 508.5,340.1 508.7,340.0 508.9,340.3 509.1,340.1 509.3,339.9 509.4,340.1 509.6,340.0 509.8,340.2 510.0,339.9 510.2,340.0 510.4,340.1 510.6,340.0 510.8,340.0 510.9,339.9 511.1,340.0 511.3,340.2 511.5,340.1 511.7,339.9 511.9,340.0 512.1,340.1 512.3,340.0 512.5,340.1 512.6,340.0 512.8,340.3 513.0,340.2 513.2,340.0 513.4,340.1 513.6,340.1 513.8,339.9 514.0,340.1 514.1,340.1 514.3,340.2 514.5,340.2 514.7,340.1 514.9,340.3 515.1,340.4 515.3,340.0 515.5,340.1 515.7,340.0 515.8,340.1 516.0,340.1 516.2,340.1 516.4,340.1 516.6,340.3 516.8,340.0 517.0,340.3 517.2,340.1 517.3,339.9 517.5,340.2 517.7,340.0 517.9,340.2 518.1,340.1 518.3,340.2 518.5,340.1 518.7,340.3 518.9,340.3 519.0,340.2 519.2,340.4 519.4,340.3 519.6,340.1 519.8,340.3 520.0,340.3 520.2,340.3 520.4,340.2 520.5,340.3 520.7,340.2 520.9,340.2 521.1,340.0 521.3,340.3 521.5,340.5 521.7,340.2 521.9,340.2 522.1,340.2 522.2,340.4 522.4,340.1 522.6,340.3 522.8,340.3 523.0,340.4 523.2,340.2 523.4,340.3 523.6,340.1 523.7,340.3 523.9,340.4 524.1,340.3 524.3,340.4 524.5,340.2 524.7,340.4 524.9,340.3 525.1,340.3 525.3,340.3 525.4,340.4 525.6,340.4 525.8,340.3 526.0,340.4 526.2,340.3 526.4,340.3 526.6,340.6 526.8,340.3 527.0,340.2 527.1,340.3 527.3,340.3 527.5,340.3 527.7,340.4 527.9,340.5 528.1,340.3 528.3,340.2 528.5,340.3 528.6,340.3 528.8,340.3 529.0,340.4 529.2,340.3 529.4,340.4 529.6,340.3 529.8,340.5 530.0,340.4 530.2,340.3 530.3,340.4 530.5,340.6 530.7,340.4 530.9,340.6 531.1,340.2 531.3,340.3 531.5,340.3 531.7,340.5 531.8,340.5 532.0,340.4 532.2,340.4 532.4,340.5 532.6,340.4 532.8,340.3 533.0,340.4 533.2,340.5 533.4,340.7 533.5,340.4 533.7,340.5 533.9,340.4 534.1,340.3 534.3,340.3 534.5,340.4 534.7,340.3 534.9,340.3 535.0,340.5 535.2,340.4 535.4,340.4 535.6,340.5 535.8,340.5"/>
</g>
<path d="M121.6,343.7v-4.2M121.6,7.75v4.2M159.2,343.7v-7.2M159.2,7.75v7.2M196.9,343.7v-4.2M196.9,7.75v4.2M234.5,343.7v-7.2M234.5,7.75v7.2M272.2,343.7v-4.2M272.2,7.75v4.2M309.9,343.7v-7.2M309.9,7.75v7.2M347.5,343.7v-4.2M347.5,7.75v4.2M385.2,343.7v-7.2M385.2,7.75v7.2M422.8,343.7v-4.2M422.8,7.75v4.2M460.5,343.7v-7.2M460.5,7.75v7.2M498.1,343.7v-4.2M498.1,7.75v4.2" stroke="#000" stroke-width="2.1" fill="none"/>
<path d="M83.9,313.2h4.2M535.8,313.2h-4.2M83.9,282.6h7.2M535.8,282.6h-7.2M83.9,252.1h4.2M535.8,252.1h-4.2M83.9,221.5h7.2M535.8,221.5h-7.2M83.9,191.0h4.2M535.8,191.0h-4.2M83.9,160.5h7.2M535.8,160.5h-7.2M83.9,129.9h4.2M535.8,129.9h-4.2M83.9,99.4h7.2M535.8,99.4h-7.2M83.9,68.8h4.2M535.8,68.8h-4.2M83.9,38.3h7.2M535.8,38.3h-7.2" stroke="#000" stroke-width="2.5" fill="none"/>
<path d="M83.9,6.65V344.8" fill="none" stroke="#000" stroke-width="2.7"/>
<path d="M535.8,6.65V344.8" fill="none" stroke="#000" stroke-width="2.2"/>
<path d="M82.75,7.75H536.9499999999999M82.75,343.9H536.9499999999999" fill="none" stroke="#000" stroke-width="2.25"/>
<text x="84.0" y="363.0" font-size="15.5" text-anchor="middle">20</text>
<text x="159.3" y="363.0" font-size="15.5" text-anchor="middle">30</text>
<text x="234.6" y="363.0" font-size="15.5" text-anchor="middle">40</text>
<text x="310.0" y="363.0" font-size="15.5" text-anchor="middle">50</text>
<text x="385.3" y="363.0" font-size="15.5" text-anchor="middle">60</text>
<text x="460.6" y="363.0" font-size="15.5" text-anchor="middle">70</text>
<text x="535.9" y="363.0" font-size="15.5" text-anchor="middle">80</text>
<text x="76.6" y="349.0" font-size="15.5" text-anchor="end">0</text>
<text x="76.6" y="287.9" font-size="15.5" text-anchor="end">2,000</text>
<text x="76.6" y="226.8" font-size="15.5" text-anchor="end">4,000</text>
<text x="76.6" y="165.8" font-size="15.5" text-anchor="end">6,000</text>
<text x="76.6" y="104.7" font-size="15.5" text-anchor="end">8,000</text>
<text x="76.6" y="43.6" font-size="15.5" text-anchor="end">10,000</text>
<text transform="translate(307,390.6) scale(1,1.04)" font-size="16.5" text-anchor="middle">2 Q (degree)</text>
<text transform="translate(18.55,185.5) rotate(-90)" font-size="17.1" text-anchor="middle">Intensity</text>
<text transform="translate(166,193.5) rotate(-90) scale(1,1.05)" font-size="16" text-anchor="middle">(100)</text>
<text transform="translate(215.8,260.4) rotate(-90) scale(1,1.05)" font-size="16" text-anchor="middle">(101)</text>
<text transform="translate(367.8,234.4) rotate(-90) scale(1,1.05)" font-size="16" text-anchor="middle">(110)</text>
<text transform="translate(436.8,280) rotate(-90) scale(1,1.05)" font-size="16" text-anchor="middle">(200)</text>
<line x1="347.6" x2="386.9" y1="30.3" y2="30.3" stroke="#0000ff" stroke-width="1.6"/>
<text transform="translate(391.5,36.3) scale(1,1.04)" font-size="16.5">AZO UV-Ozone</text>
<line x1="347.6" x2="386.9" y1="51.8" y2="51.8" stroke="#ff0000" stroke-width="1.6"/>
<text transform="translate(391.5,57.8) scale(1,1.04)" font-size="16.5">AZO annealed</text>
<line x1="347.6" x2="386.9" y1="73.3" y2="73.3" stroke="#008000" stroke-width="1.6"/>
<text transform="translate(391.5,79.3) scale(1,1.04)" font-size="16.5">AZO as-deposited</text>
</svg></body></html>
